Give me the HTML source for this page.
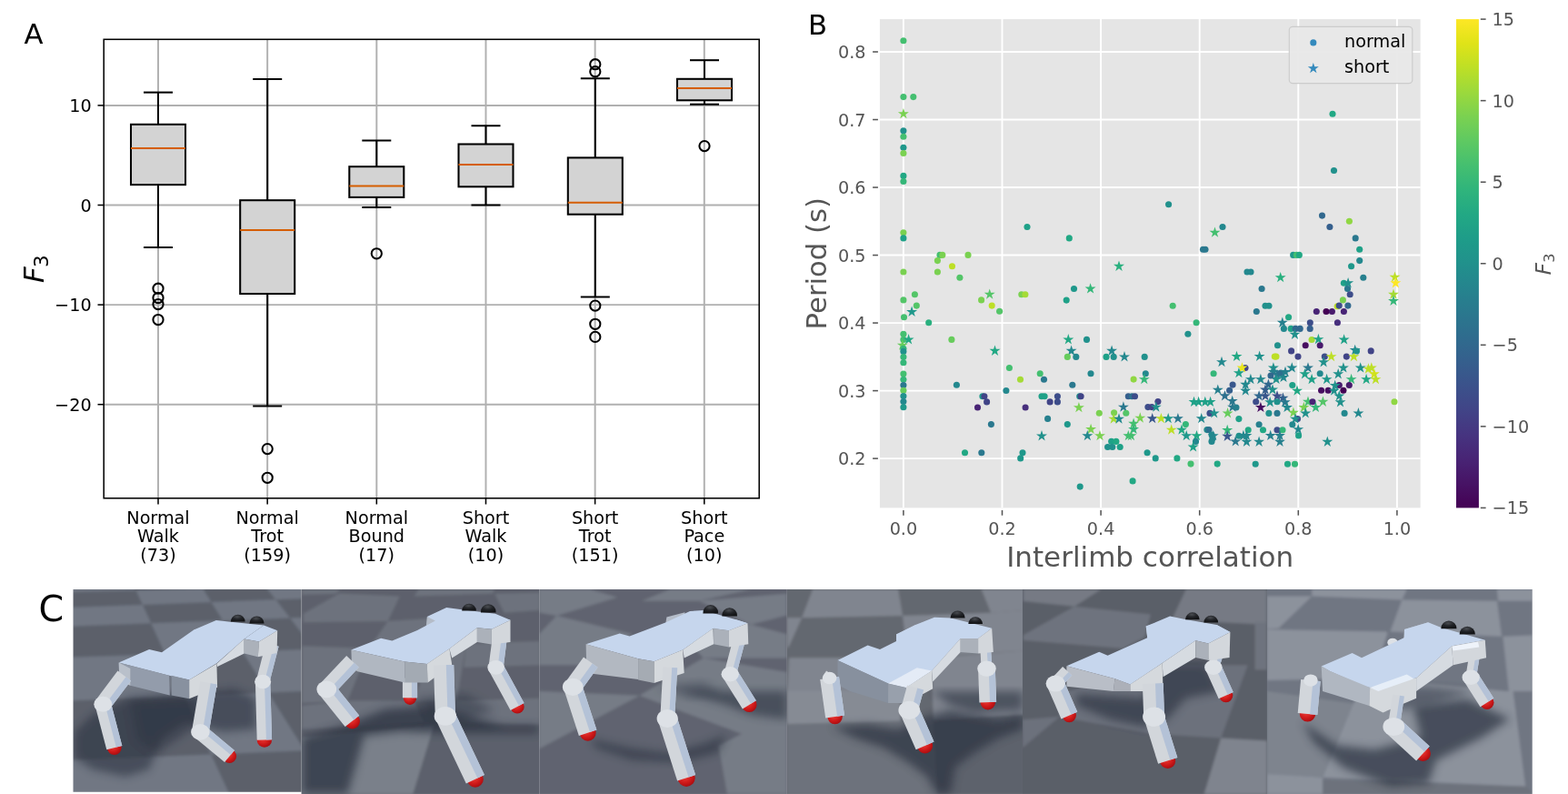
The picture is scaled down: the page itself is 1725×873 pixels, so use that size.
<!DOCTYPE html>
<html><head><meta charset="utf-8"><title>Figure</title>
<style>
html,body{margin:0;padding:0;background:#fff;}
body{width:1725px;height:873px;overflow:hidden;position:relative;}
svg{position:absolute;left:0;top:0;}
text{font-family:'DejaVu Sans', 'Liberation Sans', sans-serif;}
</style></head><body>
<svg width="1725" height="873" viewBox="0 0 1725 873">

<text x="26.5" y="48.3" font-size="30.7" fill="#000">A</text>
<line x1="114.2" y1="115.90" x2="835.2" y2="115.90" stroke="#b0b0b0" stroke-width="1.95"/>
<line x1="114.2" y1="225.50" x2="835.2" y2="225.50" stroke="#b0b0b0" stroke-width="1.95"/>
<line x1="114.2" y1="335.10" x2="835.2" y2="335.10" stroke="#b0b0b0" stroke-width="1.95"/>
<line x1="114.2" y1="444.70" x2="835.2" y2="444.70" stroke="#b0b0b0" stroke-width="1.95"/>
<line x1="174.00" y1="43.3" x2="174.00" y2="547.8" stroke="#b0b0b0" stroke-width="1.95"/>
<line x1="294.16" y1="43.3" x2="294.16" y2="547.8" stroke="#b0b0b0" stroke-width="1.95"/>
<line x1="414.32" y1="43.3" x2="414.32" y2="547.8" stroke="#b0b0b0" stroke-width="1.95"/>
<line x1="534.48" y1="43.3" x2="534.48" y2="547.8" stroke="#b0b0b0" stroke-width="1.95"/>
<line x1="654.64" y1="43.3" x2="654.64" y2="547.8" stroke="#b0b0b0" stroke-width="1.95"/>
<line x1="774.80" y1="43.3" x2="774.80" y2="547.8" stroke="#b0b0b0" stroke-width="1.95"/>
<line x1="174.0" y1="136.8" x2="174.0" y2="101.6" stroke="#000" stroke-width="2.05"/>
<line x1="174.0" y1="203.1" x2="174.0" y2="272.0" stroke="#000" stroke-width="2.05"/>
<line x1="158.0" y1="101.6" x2="190.0" y2="101.6" stroke="#000" stroke-width="2.05"/>
<line x1="158.0" y1="272.0" x2="190.0" y2="272.0" stroke="#000" stroke-width="2.05"/>
<rect x="144.0" y="136.8" width="60" height="66.30" fill="#d3d3d3" stroke="#000" stroke-width="2.05"/>
<line x1="144.0" y1="162.9" x2="204.0" y2="162.9" stroke="#d55e00" stroke-width="2.05"/>
<circle cx="174.0" cy="317.2" r="5.6" fill="none" stroke="#000" stroke-width="2.05"/>
<circle cx="174.0" cy="327.5" r="5.6" fill="none" stroke="#000" stroke-width="2.05"/>
<circle cx="174.0" cy="334.5" r="5.6" fill="none" stroke="#000" stroke-width="2.05"/>
<circle cx="174.0" cy="351.5" r="5.6" fill="none" stroke="#000" stroke-width="2.05"/>
<line x1="294.2" y1="220.2" x2="294.2" y2="87.0" stroke="#000" stroke-width="2.05"/>
<line x1="294.2" y1="323.0" x2="294.2" y2="446.5" stroke="#000" stroke-width="2.05"/>
<line x1="278.2" y1="87.0" x2="310.2" y2="87.0" stroke="#000" stroke-width="2.05"/>
<line x1="278.2" y1="446.5" x2="310.2" y2="446.5" stroke="#000" stroke-width="2.05"/>
<rect x="264.2" y="220.2" width="60" height="102.80" fill="#d3d3d3" stroke="#000" stroke-width="2.05"/>
<line x1="264.2" y1="252.9" x2="324.2" y2="252.9" stroke="#d55e00" stroke-width="2.05"/>
<circle cx="294.2" cy="493.6" r="5.6" fill="none" stroke="#000" stroke-width="2.05"/>
<circle cx="294.2" cy="525.3" r="5.6" fill="none" stroke="#000" stroke-width="2.05"/>
<line x1="414.3" y1="183.2" x2="414.3" y2="154.4" stroke="#000" stroke-width="2.05"/>
<line x1="414.3" y1="216.9" x2="414.3" y2="227.9" stroke="#000" stroke-width="2.05"/>
<line x1="398.3" y1="154.4" x2="430.3" y2="154.4" stroke="#000" stroke-width="2.05"/>
<line x1="398.3" y1="227.9" x2="430.3" y2="227.9" stroke="#000" stroke-width="2.05"/>
<rect x="384.3" y="183.2" width="60" height="33.70" fill="#d3d3d3" stroke="#000" stroke-width="2.05"/>
<line x1="384.3" y1="204.4" x2="444.3" y2="204.4" stroke="#d55e00" stroke-width="2.05"/>
<circle cx="414.3" cy="278.8" r="5.6" fill="none" stroke="#000" stroke-width="2.05"/>
<line x1="534.5" y1="158.5" x2="534.5" y2="138.3" stroke="#000" stroke-width="2.05"/>
<line x1="534.5" y1="205.3" x2="534.5" y2="225.5" stroke="#000" stroke-width="2.05"/>
<line x1="518.5" y1="138.3" x2="550.5" y2="138.3" stroke="#000" stroke-width="2.05"/>
<line x1="518.5" y1="225.5" x2="550.5" y2="225.5" stroke="#000" stroke-width="2.05"/>
<rect x="504.5" y="158.5" width="60" height="46.80" fill="#d3d3d3" stroke="#000" stroke-width="2.05"/>
<line x1="504.5" y1="180.9" x2="564.5" y2="180.9" stroke="#d55e00" stroke-width="2.05"/>
<line x1="654.8" y1="173.4" x2="654.8" y2="86.2" stroke="#000" stroke-width="2.05"/>
<line x1="654.8" y1="235.7" x2="654.8" y2="326.5" stroke="#000" stroke-width="2.05"/>
<line x1="638.8" y1="86.2" x2="670.8" y2="86.2" stroke="#000" stroke-width="2.05"/>
<line x1="638.8" y1="326.5" x2="670.8" y2="326.5" stroke="#000" stroke-width="2.05"/>
<rect x="624.8" y="173.4" width="60" height="62.30" fill="#d3d3d3" stroke="#000" stroke-width="2.05"/>
<line x1="624.8" y1="222.8" x2="684.8" y2="222.8" stroke="#d55e00" stroke-width="2.05"/>
<circle cx="654.8" cy="70.7" r="5.6" fill="none" stroke="#000" stroke-width="2.05"/>
<circle cx="654.8" cy="78.7" r="5.6" fill="none" stroke="#000" stroke-width="2.05"/>
<circle cx="654.8" cy="336.1" r="5.6" fill="none" stroke="#000" stroke-width="2.05"/>
<circle cx="654.8" cy="356.3" r="5.6" fill="none" stroke="#000" stroke-width="2.05"/>
<circle cx="654.8" cy="370.4" r="5.6" fill="none" stroke="#000" stroke-width="2.05"/>
<line x1="775.0" y1="86.8" x2="775.0" y2="66.2" stroke="#000" stroke-width="2.05"/>
<line x1="775.0" y1="110.3" x2="775.0" y2="114.7" stroke="#000" stroke-width="2.05"/>
<line x1="759.0" y1="66.2" x2="791.0" y2="66.2" stroke="#000" stroke-width="2.05"/>
<line x1="759.0" y1="114.7" x2="791.0" y2="114.7" stroke="#000" stroke-width="2.05"/>
<rect x="745.0" y="86.8" width="60" height="23.50" fill="#d3d3d3" stroke="#000" stroke-width="2.05"/>
<line x1="745.0" y1="96.9" x2="805.0" y2="96.9" stroke="#d55e00" stroke-width="2.05"/>
<circle cx="775.0" cy="160.6" r="5.6" fill="none" stroke="#000" stroke-width="2.05"/>
<rect x="114.2" y="43.3" width="721.00" height="504.50" fill="none" stroke="#000" stroke-width="1.54"/>
<line x1="107.50" y1="115.90" x2="114.2" y2="115.90" stroke="#000" stroke-width="1.54"/>
<text x="100.60" y="122.90" font-size="19.2" text-anchor="end" fill="#000">10</text>
<line x1="107.50" y1="225.50" x2="114.2" y2="225.50" stroke="#000" stroke-width="1.54"/>
<text x="100.60" y="232.50" font-size="19.2" text-anchor="end" fill="#000">0</text>
<line x1="107.50" y1="335.10" x2="114.2" y2="335.10" stroke="#000" stroke-width="1.54"/>
<text x="100.60" y="342.10" font-size="19.2" text-anchor="end" fill="#000">−10</text>
<line x1="107.50" y1="444.70" x2="114.2" y2="444.70" stroke="#000" stroke-width="1.54"/>
<text x="100.60" y="451.70" font-size="19.2" text-anchor="end" fill="#000">−20</text>
<line x1="174.00" y1="547.8" x2="174.00" y2="554.50" stroke="#000" stroke-width="1.54"/>
<text x="174.00" y="575.50" font-size="19.2" text-anchor="middle" fill="#000">Normal</text>
<text x="174.00" y="596.10" font-size="19.2" text-anchor="middle" fill="#000">Walk</text>
<text x="174.00" y="616.70" font-size="19.2" text-anchor="middle" fill="#000">(73)</text>
<line x1="294.16" y1="547.8" x2="294.16" y2="554.50" stroke="#000" stroke-width="1.54"/>
<text x="294.16" y="575.50" font-size="19.2" text-anchor="middle" fill="#000">Normal</text>
<text x="294.16" y="596.10" font-size="19.2" text-anchor="middle" fill="#000">Trot</text>
<text x="294.16" y="616.70" font-size="19.2" text-anchor="middle" fill="#000">(159)</text>
<line x1="414.32" y1="547.8" x2="414.32" y2="554.50" stroke="#000" stroke-width="1.54"/>
<text x="414.32" y="575.50" font-size="19.2" text-anchor="middle" fill="#000">Normal</text>
<text x="414.32" y="596.10" font-size="19.2" text-anchor="middle" fill="#000">Bound</text>
<text x="414.32" y="616.70" font-size="19.2" text-anchor="middle" fill="#000">(17)</text>
<line x1="534.48" y1="547.8" x2="534.48" y2="554.50" stroke="#000" stroke-width="1.54"/>
<text x="534.48" y="575.50" font-size="19.2" text-anchor="middle" fill="#000">Short</text>
<text x="534.48" y="596.10" font-size="19.2" text-anchor="middle" fill="#000">Walk</text>
<text x="534.48" y="616.70" font-size="19.2" text-anchor="middle" fill="#000">(10)</text>
<line x1="654.64" y1="547.8" x2="654.64" y2="554.50" stroke="#000" stroke-width="1.54"/>
<text x="654.64" y="575.50" font-size="19.2" text-anchor="middle" fill="#000">Short</text>
<text x="654.64" y="596.10" font-size="19.2" text-anchor="middle" fill="#000">Trot</text>
<text x="654.64" y="616.70" font-size="19.2" text-anchor="middle" fill="#000">(151)</text>
<line x1="774.80" y1="547.8" x2="774.80" y2="554.50" stroke="#000" stroke-width="1.54"/>
<text x="774.80" y="575.50" font-size="19.2" text-anchor="middle" fill="#000">Short</text>
<text x="774.80" y="596.10" font-size="19.2" text-anchor="middle" fill="#000">Pace</text>
<text x="774.80" y="616.70" font-size="19.2" text-anchor="middle" fill="#000">(10)</text>
<g transform="translate(47.9,311) rotate(-90)"><text x="0" y="0" font-size="30.7" font-style="italic" fill="#000">F</text><text x="17" y="5.2" font-size="21.5" fill="#000">3</text></g>
<text x="888.9" y="37.7" font-size="30.7" fill="#000">B</text>
<rect x="967.9" y="21.1" width="594.70" height="537.30" fill="#e5e5e5"/>
<line x1="993.90" y1="21.1" x2="993.90" y2="558.4" stroke="#fff" stroke-width="1.9"/>
<line x1="1102.50" y1="21.1" x2="1102.50" y2="558.4" stroke="#fff" stroke-width="1.9"/>
<line x1="1211.10" y1="21.1" x2="1211.10" y2="558.4" stroke="#fff" stroke-width="1.9"/>
<line x1="1319.70" y1="21.1" x2="1319.70" y2="558.4" stroke="#fff" stroke-width="1.9"/>
<line x1="1428.30" y1="21.1" x2="1428.30" y2="558.4" stroke="#fff" stroke-width="1.9"/>
<line x1="1536.90" y1="21.1" x2="1536.90" y2="558.4" stroke="#fff" stroke-width="1.9"/>
<line x1="967.9" y1="504.12" x2="1562.6" y2="504.12" stroke="#fff" stroke-width="1.9"/>
<line x1="967.9" y1="429.60" x2="1562.6" y2="429.60" stroke="#fff" stroke-width="1.9"/>
<line x1="967.9" y1="355.08" x2="1562.6" y2="355.08" stroke="#fff" stroke-width="1.9"/>
<line x1="967.9" y1="280.56" x2="1562.6" y2="280.56" stroke="#fff" stroke-width="1.9"/>
<line x1="967.9" y1="206.04" x2="1562.6" y2="206.04" stroke="#fff" stroke-width="1.9"/>
<line x1="967.9" y1="131.52" x2="1562.6" y2="131.52" stroke="#fff" stroke-width="1.9"/>
<line x1="967.9" y1="57.00" x2="1562.6" y2="57.00" stroke="#fff" stroke-width="1.9"/>
<circle cx="993.9" cy="44.7" r="3.55" fill="#44bf70"/>
<circle cx="993.9" cy="106.6" r="3.55" fill="#44bf70"/>
<circle cx="1004.8" cy="106.6" r="3.55" fill="#44bf70"/>
<path d="M993.90,118.90 L992.49,123.25 L987.91,123.25 L991.61,125.94 L990.20,130.30 L993.90,127.61 L997.60,130.30 L996.19,125.94 L999.89,123.25 L995.31,123.25Z" fill="#7ad151"/>
<circle cx="993.9" cy="143.7" r="3.55" fill="#21918c"/>
<circle cx="993.9" cy="150.3" r="3.55" fill="#44bf70"/>
<circle cx="993.9" cy="162.3" r="3.55" fill="#1f988b"/>
<circle cx="993.9" cy="168.5" r="3.55" fill="#7ad151"/>
<circle cx="993.9" cy="193.4" r="3.55" fill="#22a884"/>
<circle cx="993.9" cy="199.5" r="3.55" fill="#35b779"/>
<circle cx="993.9" cy="255.7" r="3.55" fill="#7ad151"/>
<circle cx="993.9" cy="261.9" r="3.55" fill="#1fa188"/>
<circle cx="1034" cy="280.4" r="3.55" fill="#44bf70"/>
<circle cx="1036.8" cy="280.4" r="3.55" fill="#7ad151"/>
<circle cx="1065" cy="280.4" r="3.55" fill="#7ad151"/>
<circle cx="1031.4" cy="286.6" r="3.55" fill="#7ad151"/>
<circle cx="1047.5" cy="292.8" r="3.55" fill="#bddf26"/>
<circle cx="993.9" cy="299" r="3.55" fill="#7ad151"/>
<circle cx="1031.4" cy="299" r="3.55" fill="#7ad151"/>
<circle cx="1055.9" cy="305.2" r="3.55" fill="#54c568"/>
<circle cx="1130" cy="249.5" r="3.55" fill="#1fa188"/>
<circle cx="1006.4" cy="323.7" r="3.55" fill="#54c568"/>
<circle cx="993.9" cy="329.9" r="3.55" fill="#54c568"/>
<circle cx="1008.3" cy="336.1" r="3.55" fill="#54c568"/>
<path d="M1003.10,336.60 L1001.69,340.95 L997.11,340.95 L1000.81,343.64 L999.40,348.00 L1003.10,345.31 L1006.80,348.00 L1005.39,343.64 L1009.09,340.95 L1004.51,340.95Z" fill="#1f988b"/>
<circle cx="994.5" cy="348.7" r="3.55" fill="#44bf70"/>
<circle cx="1021.7" cy="354.8" r="3.55" fill="#2ab07f"/>
<path d="M1088.70,317.40 L1087.29,321.75 L1082.71,321.75 L1086.41,324.44 L1085.00,328.80 L1088.70,326.11 L1092.40,328.80 L1090.99,324.44 L1094.69,321.75 L1090.11,321.75Z" fill="#54c568"/>
<circle cx="1079.6" cy="329.9" r="3.55" fill="#7ad151"/>
<circle cx="1091.2" cy="336.1" r="3.55" fill="#bddf26"/>
<circle cx="1099.6" cy="342.3" r="3.55" fill="#54c568"/>
<circle cx="1123.8" cy="323.7" r="3.55" fill="#7ad151"/>
<circle cx="1127.9" cy="323.7" r="3.55" fill="#a5db36"/>
<circle cx="993.9" cy="367.2" r="3.55" fill="#44bf70"/>
<circle cx="993.9" cy="373.4" r="3.55" fill="#44bf70"/>
<path d="M999.60,367.10 L998.19,371.45 L993.61,371.45 L997.31,374.14 L995.90,378.50 L999.60,375.81 L1003.30,378.50 L1001.89,374.14 L1005.59,371.45 L1001.01,371.45Z" fill="#22a884"/>
<path d="M992.80,373.30 L991.39,377.65 L986.81,377.65 L990.51,380.34 L989.10,384.70 L992.80,382.01 L996.50,384.70 L995.09,380.34 L998.79,377.65 L994.21,377.65Z" fill="#67cc5c"/>
<circle cx="993.9" cy="383.3" r="3.55" fill="#35b779"/>
<circle cx="993.9" cy="386.4" r="3.55" fill="#21918c"/>
<circle cx="993.9" cy="392.6" r="3.55" fill="#35b779"/>
<circle cx="993.9" cy="398.8" r="3.55" fill="#35b779"/>
<circle cx="993.9" cy="411.1" r="3.55" fill="#44bf70"/>
<circle cx="993.9" cy="417.3" r="3.55" fill="#35b779"/>
<circle cx="993.9" cy="423.5" r="3.55" fill="#2a788e"/>
<circle cx="993.9" cy="429.3" r="3.55" fill="#67cc5c"/>
<circle cx="993.9" cy="435.5" r="3.55" fill="#21918c"/>
<circle cx="993.9" cy="441.6" r="3.55" fill="#23888e"/>
<circle cx="993.9" cy="447.8" r="3.55" fill="#1f988b"/>
<circle cx="1046.9" cy="373.4" r="3.55" fill="#67cc5c"/>
<path d="M1094.50,379.50 L1093.09,383.85 L1088.51,383.85 L1092.21,386.54 L1090.80,390.90 L1094.50,388.21 L1098.20,390.90 L1096.79,386.54 L1100.49,383.85 L1095.91,383.85Z" fill="#22a884"/>
<circle cx="1110.4" cy="404.5" r="3.55" fill="#44bf70"/>
<circle cx="1122.5" cy="417.3" r="3.55" fill="#a5db36"/>
<circle cx="1144.2" cy="410.7" r="3.55" fill="#44bf70"/>
<circle cx="1148.5" cy="417.3" r="3.55" fill="#2a788e"/>
<circle cx="1052.4" cy="423.3" r="3.55" fill="#23888e"/>
<circle cx="1106.9" cy="429.5" r="3.55" fill="#23888e"/>
<circle cx="1080.9" cy="435.7" r="3.55" fill="#1f988b"/>
<circle cx="1082.9" cy="435.7" r="3.55" fill="#414487"/>
<circle cx="1085.6" cy="441.9" r="3.55" fill="#414487"/>
<circle cx="1075.5" cy="448" r="3.55" fill="#482475"/>
<circle cx="1128.1" cy="448" r="3.55" fill="#472f7d"/>
<circle cx="1146" cy="435.7" r="3.55" fill="#1fa188"/>
<circle cx="1149.1" cy="435.7" r="3.55" fill="#1fa188"/>
<circle cx="1155.1" cy="441.9" r="3.55" fill="#414487"/>
<circle cx="1163.4" cy="435.7" r="3.55" fill="#3d4d8a"/>
<circle cx="1163.4" cy="441.9" r="3.55" fill="#3d4d8a"/>
<circle cx="1152.6" cy="460.4" r="3.55" fill="#27808e"/>
<circle cx="1090.4" cy="466.6" r="3.55" fill="#2a788e"/>
<path d="M1146.00,473.10 L1144.59,477.45 L1140.01,477.45 L1143.71,480.14 L1142.30,484.50 L1146.00,481.81 L1149.70,484.50 L1148.29,480.14 L1151.99,477.45 L1147.41,477.45Z" fill="#21918c"/>
<circle cx="1061.5" cy="497.7" r="3.55" fill="#22a884"/>
<circle cx="1079.8" cy="497.7" r="3.55" fill="#2a788e"/>
<circle cx="1125" cy="497.7" r="3.55" fill="#1f988b"/>
<circle cx="1122.7" cy="503.9" r="3.55" fill="#1f988b"/>
<circle cx="1285.6" cy="224.7" r="3.55" fill="#21918c"/>
<circle cx="1345" cy="249.5" r="3.55" fill="#23888e"/>
<path d="M1336.50,249.40 L1335.09,253.75 L1330.51,253.75 L1334.21,256.44 L1332.80,260.80 L1336.50,258.11 L1340.20,260.80 L1338.79,256.44 L1342.49,253.75 L1337.91,253.75Z" fill="#44bf70"/>
<circle cx="1323.5" cy="274.2" r="3.55" fill="#2a788e"/>
<circle cx="1326" cy="274.2" r="3.55" fill="#2a788e"/>
<circle cx="1176.3" cy="261.9" r="3.55" fill="#22a884"/>
<path d="M1231.00,286.50 L1229.59,290.85 L1225.01,290.85 L1228.71,293.54 L1227.30,297.90 L1231.00,295.21 L1234.70,297.90 L1233.29,293.54 L1236.99,290.85 L1232.41,290.85Z" fill="#2ab07f"/>
<circle cx="1181.5" cy="317.5" r="3.55" fill="#1f988b"/>
<path d="M1199.60,311.20 L1198.19,315.55 L1193.61,315.55 L1197.31,318.24 L1195.90,322.60 L1199.60,319.91 L1203.30,322.60 L1201.89,318.24 L1205.59,315.55 L1201.01,315.55Z" fill="#35b779"/>
<circle cx="1173.2" cy="330.1" r="3.55" fill="#1fa188"/>
<circle cx="1290.2" cy="336.3" r="3.55" fill="#44bf70"/>
<circle cx="1316.1" cy="354.8" r="3.55" fill="#35b779"/>
<circle cx="1466" cy="125.2" r="3.55" fill="#22a884"/>
<circle cx="1467.5" cy="187.5" r="3.55" fill="#21918c"/>
<circle cx="1454.5" cy="237.1" r="3.55" fill="#31688e"/>
<circle cx="1462.9" cy="249.5" r="3.55" fill="#355f8d"/>
<circle cx="1484.4" cy="243.3" r="3.55" fill="#90d743"/>
<circle cx="1491.2" cy="261.9" r="3.55" fill="#2a788e"/>
<circle cx="1495.7" cy="274.2" r="3.55" fill="#1fa188"/>
<circle cx="1495.7" cy="286.6" r="3.55" fill="#23888e"/>
<circle cx="1486.6" cy="292.8" r="3.55" fill="#1f988b"/>
<circle cx="1499.8" cy="305.2" r="3.55" fill="#27808e"/>
<circle cx="1422.7" cy="280.4" r="3.55" fill="#1f988b"/>
<circle cx="1426.4" cy="280.4" r="3.55" fill="#44bf70"/>
<circle cx="1429.3" cy="280.4" r="3.55" fill="#22a884"/>
<circle cx="1372" cy="299" r="3.55" fill="#23888e"/>
<circle cx="1376" cy="299" r="3.55" fill="#23888e"/>
<path d="M1408.70,298.90 L1407.29,303.25 L1402.71,303.25 L1406.41,305.94 L1405.00,310.30 L1408.70,307.61 L1412.40,310.30 L1410.99,305.94 L1414.69,303.25 L1410.11,303.25Z" fill="#2ab07f"/>
<circle cx="1388.1" cy="317.5" r="3.55" fill="#2a788e"/>
<circle cx="1392" cy="336.3" r="3.55" fill="#21918c"/>
<circle cx="1396" cy="336.3" r="3.55" fill="#21918c"/>
<circle cx="1382.3" cy="342.5" r="3.55" fill="#2a788e"/>
<circle cx="1417.6" cy="348.7" r="3.55" fill="#22a884"/>
<path d="M1410.80,348.50 L1409.39,352.85 L1404.81,352.85 L1408.51,355.54 L1407.10,359.90 L1410.80,357.21 L1414.50,359.90 L1413.09,355.54 L1416.79,352.85 L1412.21,352.85Z" fill="#27808e"/>
<circle cx="1478.4" cy="311.3" r="3.55" fill="#1fa188"/>
<path d="M1483.10,305.00 L1481.69,309.35 L1477.11,309.35 L1480.81,312.04 L1479.40,316.40 L1483.10,313.71 L1486.80,316.40 L1485.39,312.04 L1489.09,309.35 L1484.51,309.35Z" fill="#21918c"/>
<circle cx="1482.5" cy="317.5" r="3.55" fill="#2a788e"/>
<circle cx="1485.2" cy="323.7" r="3.55" fill="#3d4d8a"/>
<circle cx="1477.4" cy="329.9" r="3.55" fill="#7ad151"/>
<circle cx="1471.2" cy="336.7" r="3.55" fill="#bddf26"/>
<circle cx="1473.2" cy="336.1" r="3.55" fill="#3d4d8a"/>
<circle cx="1482.9" cy="336.1" r="3.55" fill="#31688e"/>
<circle cx="1448.3" cy="342.5" r="3.55" fill="#482475"/>
<circle cx="1459" cy="342.5" r="3.55" fill="#440154"/>
<circle cx="1465.4" cy="342.5" r="3.55" fill="#481a6c"/>
<circle cx="1478.4" cy="342.5" r="3.55" fill="#482475"/>
<circle cx="1441.3" cy="354.8" r="3.55" fill="#3d4d8a"/>
<circle cx="1471.4" cy="354.8" r="3.55" fill="#472f7d"/>
<path d="M1534.50,298.40 L1533.09,302.75 L1528.51,302.75 L1532.21,305.44 L1530.80,309.80 L1534.50,307.11 L1538.20,309.80 L1536.79,305.44 L1540.49,302.75 L1535.91,302.75Z" fill="#bddf26"/>
<path d="M1535.30,305.00 L1533.89,309.35 L1529.31,309.35 L1533.01,312.04 L1531.60,316.40 L1535.30,313.71 L1539.00,316.40 L1537.59,312.04 L1541.29,309.35 L1536.71,309.35Z" fill="#fde725"/>
<path d="M1533.00,317.40 L1531.59,321.75 L1527.01,321.75 L1530.71,324.44 L1529.30,328.80 L1533.00,326.11 L1536.70,328.80 L1535.29,324.44 L1538.99,321.75 L1534.41,321.75Z" fill="#a5db36"/>
<path d="M1533.00,324.60 L1531.59,328.95 L1527.01,328.95 L1530.71,331.64 L1529.30,336.00 L1533.00,333.31 L1536.70,336.00 L1535.29,331.64 L1538.99,328.95 L1534.41,328.95Z" fill="#35b779"/>
<circle cx="1306.9" cy="367.2" r="3.55" fill="#21918c"/>
<path d="M1175.30,367.10 L1173.89,371.45 L1169.31,371.45 L1173.01,374.14 L1171.60,378.50 L1175.30,375.81 L1179.00,378.50 L1177.59,374.14 L1181.29,371.45 L1176.71,371.45Z" fill="#22a884"/>
<circle cx="1195.5" cy="373.4" r="3.55" fill="#21918c"/>
<path d="M1178.60,379.50 L1177.19,383.85 L1172.61,383.85 L1176.31,386.54 L1174.90,390.90 L1178.60,388.21 L1182.30,390.90 L1180.89,386.54 L1184.59,383.85 L1180.01,383.85Z" fill="#23888e"/>
<circle cx="1174.3" cy="392.4" r="3.55" fill="#67cc5c"/>
<circle cx="1183.8" cy="392.4" r="3.55" fill="#23888e"/>
<path d="M1223.10,379.50 L1221.69,383.85 L1217.11,383.85 L1220.81,386.54 L1219.40,390.90 L1223.10,388.21 L1226.80,390.90 L1225.39,386.54 L1229.09,383.85 L1224.51,383.85Z" fill="#23888e"/>
<circle cx="1217" cy="392.4" r="3.55" fill="#1fa188"/>
<circle cx="1225.2" cy="392.4" r="3.55" fill="#21918c"/>
<path d="M1237.00,386.10 L1235.59,390.45 L1231.01,390.45 L1234.71,393.14 L1233.30,397.50 L1237.00,394.81 L1240.70,397.50 L1239.29,393.14 L1242.99,390.45 L1238.41,390.45Z" fill="#23888e"/>
<circle cx="1259.2" cy="392.4" r="3.55" fill="#21918c"/>
<circle cx="1200" cy="410.7" r="3.55" fill="#23888e"/>
<circle cx="1260.3" cy="410.7" r="3.55" fill="#23888e"/>
<circle cx="1247.1" cy="417.1" r="3.55" fill="#90d743"/>
<path d="M1258.80,410.80 L1257.39,415.15 L1252.81,415.15 L1256.51,417.84 L1255.10,422.20 L1258.80,419.51 L1262.50,422.20 L1261.09,417.84 L1264.79,415.15 L1260.21,415.15Z" fill="#35b779"/>
<circle cx="1179.8" cy="423.3" r="3.55" fill="#2a788e"/>
<circle cx="1187.7" cy="435.7" r="3.55" fill="#21918c"/>
<circle cx="1189.1" cy="435.7" r="3.55" fill="#414487"/>
<circle cx="1241.3" cy="435.7" r="3.55" fill="#355f8d"/>
<circle cx="1245.4" cy="435.7" r="3.55" fill="#2d708e"/>
<circle cx="1248.5" cy="435.7" r="3.55" fill="#3d4d8a"/>
<path d="M1186.90,441.90 L1185.49,446.25 L1180.91,446.25 L1184.61,448.94 L1183.20,453.30 L1186.90,450.61 L1190.60,453.30 L1189.19,448.94 L1192.89,446.25 L1188.31,446.25Z" fill="#7ad151"/>
<circle cx="1209.3" cy="454.2" r="3.55" fill="#7ad151"/>
<path d="M1235.90,441.30 L1234.49,445.65 L1229.91,445.65 L1233.61,448.34 L1232.20,452.70 L1235.90,450.01 L1239.60,452.70 L1238.19,448.34 L1241.89,445.65 L1237.31,445.65Z" fill="#2a788e"/>
<circle cx="1225.6" cy="453.8" r="3.55" fill="#7ad151"/>
<circle cx="1238.8" cy="454.2" r="3.55" fill="#54c568"/>
<path d="M1225.20,454.30 L1223.79,458.65 L1219.21,458.65 L1222.91,461.34 L1221.50,465.70 L1225.20,463.01 L1228.90,465.70 L1227.49,461.34 L1231.19,458.65 L1226.61,458.65Z" fill="#a5db36"/>
<path d="M1231.00,454.30 L1229.59,458.65 L1225.01,458.65 L1228.71,461.34 L1227.30,465.70 L1231.00,463.01 L1234.70,465.70 L1233.29,461.34 L1236.99,458.65 L1232.41,458.65Z" fill="#23888e"/>
<circle cx="1174.3" cy="466.6" r="3.55" fill="#1f988b"/>
<path d="M1200.10,465.70 L1198.69,470.05 L1194.11,470.05 L1197.81,472.74 L1196.40,477.10 L1200.10,474.41 L1203.80,477.10 L1202.39,472.74 L1206.09,470.05 L1201.51,470.05Z" fill="#7ad151"/>
<path d="M1196.30,472.90 L1194.89,477.25 L1190.31,477.25 L1194.01,479.94 L1192.60,484.30 L1196.30,481.61 L1200.00,484.30 L1198.59,479.94 L1202.29,477.25 L1197.71,477.25Z" fill="#23888e"/>
<path d="M1210.00,472.90 L1208.59,477.25 L1204.01,477.25 L1207.71,479.94 L1206.30,484.30 L1210.00,481.61 L1213.70,484.30 L1212.29,479.94 L1215.99,477.25 L1211.41,477.25Z" fill="#7ad151"/>
<circle cx="1222.7" cy="485.4" r="3.55" fill="#1fa188"/>
<circle cx="1227.9" cy="485.4" r="3.55" fill="#22a884"/>
<circle cx="1218.6" cy="491.5" r="3.55" fill="#21918c"/>
<circle cx="1223.8" cy="491.5" r="3.55" fill="#21918c"/>
<circle cx="1232.2" cy="491.5" r="3.55" fill="#1fa188"/>
<path d="M1247.10,459.50 L1245.69,463.85 L1241.11,463.85 L1244.81,466.54 L1243.40,470.90 L1247.10,468.21 L1250.80,470.90 L1249.39,466.54 L1253.09,463.85 L1248.51,463.85Z" fill="#44bf70"/>
<path d="M1247.10,465.70 L1245.69,470.05 L1241.11,470.05 L1244.81,472.74 L1243.40,477.10 L1247.10,474.41 L1250.80,477.10 L1249.39,472.74 L1253.09,470.05 L1248.51,470.05Z" fill="#35b779"/>
<path d="M1241.30,472.90 L1239.89,477.25 L1235.31,477.25 L1239.01,479.94 L1237.60,484.30 L1241.30,481.61 L1245.00,484.30 L1243.59,479.94 L1247.29,477.25 L1242.71,477.25Z" fill="#44bf70"/>
<path d="M1244.40,472.90 L1242.99,477.25 L1238.41,477.25 L1242.11,479.94 L1240.70,484.30 L1244.40,481.61 L1248.10,484.30 L1246.69,479.94 L1250.39,477.25 L1245.81,477.25Z" fill="#44bf70"/>
<path d="M1254.30,453.30 L1252.89,457.65 L1248.31,457.65 L1252.01,460.34 L1250.60,464.70 L1254.30,462.01 L1258.00,464.70 L1256.59,460.34 L1260.29,457.65 L1255.71,457.65Z" fill="#7ad151"/>
<circle cx="1273.9" cy="441.6" r="3.55" fill="#414487"/>
<circle cx="1262.9" cy="447.6" r="3.55" fill="#3d4d8a"/>
<circle cx="1267.1" cy="447.6" r="3.55" fill="#414487"/>
<path d="M1271.80,441.30 L1270.39,445.65 L1265.81,445.65 L1269.51,448.34 L1268.10,452.70 L1271.80,450.01 L1275.50,452.70 L1274.09,448.34 L1277.79,445.65 L1273.21,445.65Z" fill="#21918c"/>
<path d="M1267.70,453.90 L1266.29,458.25 L1261.71,458.25 L1265.41,460.94 L1264.00,465.30 L1267.70,462.61 L1271.40,465.30 L1269.99,460.94 L1273.69,458.25 L1269.11,458.25Z" fill="#39568c"/>
<path d="M1277.40,453.90 L1275.99,458.25 L1271.41,458.25 L1275.11,460.94 L1273.70,465.30 L1277.40,462.61 L1281.10,465.30 L1279.69,460.94 L1283.39,458.25 L1278.81,458.25Z" fill="#bddf26"/>
<path d="M1285.20,453.90 L1283.79,458.25 L1279.21,458.25 L1282.91,460.94 L1281.50,465.30 L1285.20,462.61 L1288.90,465.30 L1287.49,460.94 L1291.19,458.25 L1286.61,458.25Z" fill="#1f988b"/>
<path d="M1295.90,453.90 L1294.49,458.25 L1289.91,458.25 L1293.61,460.94 L1292.20,465.30 L1295.90,462.61 L1299.60,465.30 L1298.19,460.94 L1301.89,458.25 L1297.31,458.25Z" fill="#2a788e"/>
<path d="M1288.70,466.30 L1287.29,470.65 L1282.71,470.65 L1286.41,473.34 L1285.00,477.70 L1288.70,475.01 L1292.40,477.70 L1290.99,473.34 L1294.69,470.65 L1290.11,470.65Z" fill="#bddf26"/>
<path d="M1300.00,466.30 L1298.59,470.65 L1294.01,470.65 L1297.71,473.34 L1296.30,477.70 L1300.00,475.01 L1303.70,477.70 L1302.29,473.34 L1305.99,470.65 L1301.41,470.65Z" fill="#22a884"/>
<circle cx="1304.4" cy="466.6" r="3.55" fill="#35b779"/>
<path d="M1305.20,472.90 L1303.79,477.25 L1299.21,477.25 L1302.91,479.94 L1301.50,484.30 L1305.20,481.61 L1308.90,484.30 L1307.49,479.94 L1311.19,477.25 L1306.61,477.25Z" fill="#1f988b"/>
<path d="M1316.50,472.90 L1315.09,477.25 L1310.51,477.25 L1314.21,479.94 L1312.80,484.30 L1316.50,481.61 L1320.20,484.30 L1318.79,479.94 L1322.49,477.25 L1317.91,477.25Z" fill="#22a884"/>
<circle cx="1315.5" cy="485.4" r="3.55" fill="#23888e"/>
<path d="M1312.60,485.20 L1311.19,489.55 L1306.61,489.55 L1310.31,492.24 L1308.90,496.60 L1312.60,493.91 L1316.30,496.60 L1314.89,492.24 L1318.59,489.55 L1314.01,489.55Z" fill="#1fa188"/>
<circle cx="1262.1" cy="497.7" r="3.55" fill="#1f988b"/>
<circle cx="1271.2" cy="503.9" r="3.55" fill="#1f988b"/>
<circle cx="1294.9" cy="503.9" r="3.55" fill="#22a884"/>
<circle cx="1310" cy="510.1" r="3.55" fill="#44bf70"/>
<circle cx="1339.2" cy="510.1" r="3.55" fill="#22a884"/>
<path d="M1313.50,435.70 L1312.09,440.05 L1307.51,440.05 L1311.21,442.74 L1309.80,447.10 L1313.50,444.41 L1317.20,447.10 L1315.79,442.74 L1319.49,440.05 L1314.91,440.05Z" fill="#1fa188"/>
<path d="M1318.60,435.70 L1317.19,440.05 L1312.61,440.05 L1316.31,442.74 L1314.90,447.10 L1318.60,444.41 L1322.30,447.10 L1320.89,442.74 L1324.59,440.05 L1320.01,440.05Z" fill="#1fa188"/>
<path d="M1325.80,435.70 L1324.39,440.05 L1319.81,440.05 L1323.51,442.74 L1322.10,447.10 L1325.80,444.41 L1329.50,447.10 L1328.09,442.74 L1331.79,440.05 L1327.21,440.05Z" fill="#1fa188"/>
<path d="M1331.60,435.70 L1330.19,440.05 L1325.61,440.05 L1329.31,442.74 L1327.90,447.10 L1331.60,444.41 L1335.30,447.10 L1333.89,442.74 L1337.59,440.05 L1333.01,440.05Z" fill="#1fa188"/>
<path d="M1321.70,453.90 L1320.29,458.25 L1315.71,458.25 L1319.41,460.94 L1318.00,465.30 L1321.70,462.61 L1325.40,465.30 L1323.99,460.94 L1327.69,458.25 L1323.11,458.25Z" fill="#23888e"/>
<circle cx="1331" cy="454.4" r="3.55" fill="#3d4d8a"/>
<path d="M1335.70,448.10 L1334.29,452.45 L1329.71,452.45 L1333.41,455.14 L1332.00,459.50 L1335.70,456.81 L1339.40,459.50 L1337.99,455.14 L1341.69,452.45 L1337.11,452.45Z" fill="#21918c"/>
<path d="M1339.80,422.40 L1338.39,426.75 L1333.81,426.75 L1337.51,429.44 L1336.10,433.80 L1339.80,431.11 L1343.50,433.80 L1342.09,429.44 L1345.79,426.75 L1341.21,426.75Z" fill="#27808e"/>
<path d="M1347.50,429.00 L1346.09,433.35 L1341.51,433.35 L1345.21,436.04 L1343.80,440.40 L1347.50,437.71 L1351.20,440.40 L1349.79,436.04 L1353.49,433.35 L1348.91,433.35Z" fill="#2d708e"/>
<path d="M1344.00,391.80 L1342.59,396.15 L1338.01,396.15 L1341.71,398.84 L1340.30,403.20 L1344.00,400.51 L1347.70,403.20 L1346.29,398.84 L1349.99,396.15 L1345.41,396.15Z" fill="#23888e"/>
<path d="M1360.50,385.70 L1359.09,390.05 L1354.51,390.05 L1358.21,392.74 L1356.80,397.10 L1360.50,394.41 L1364.20,397.10 L1362.79,392.74 L1366.49,390.05 L1361.91,390.05Z" fill="#22a884"/>
<circle cx="1335.1" cy="410.7" r="3.55" fill="#35b779"/>
<circle cx="1356.1" cy="423.1" r="3.55" fill="#39568c"/>
<circle cx="1352.6" cy="429.3" r="3.55" fill="#355f8d"/>
<path d="M1355.70,434.70 L1354.29,439.05 L1349.71,439.05 L1353.41,441.74 L1352.00,446.10 L1355.70,443.41 L1359.40,446.10 L1357.99,441.74 L1361.69,439.05 L1357.11,439.05Z" fill="#2a788e"/>
<path d="M1356.00,441.30 L1354.59,445.65 L1350.01,445.65 L1353.71,448.34 L1352.30,452.70 L1356.00,450.01 L1359.70,452.70 L1358.29,448.34 L1361.99,445.65 L1357.41,445.65Z" fill="#2a788e"/>
<circle cx="1360" cy="448" r="3.55" fill="#27808e"/>
<path d="M1350.60,448.10 L1349.19,452.45 L1344.61,452.45 L1348.31,455.14 L1346.90,459.50 L1350.60,456.81 L1354.30,459.50 L1352.89,455.14 L1356.59,452.45 L1352.01,452.45Z" fill="#67cc5c"/>
<circle cx="1362.9" cy="460.6" r="3.55" fill="#1fa188"/>
<circle cx="1327.9" cy="472.6" r="3.55" fill="#23888e"/>
<circle cx="1330" cy="472.6" r="3.55" fill="#2d708e"/>
<circle cx="1333" cy="478" r="3.55" fill="#23888e"/>
<circle cx="1334" cy="482" r="3.55" fill="#23888e"/>
<circle cx="1333" cy="485.4" r="3.55" fill="#23888e"/>
<path d="M1334.70,472.90 L1333.29,477.25 L1328.71,477.25 L1332.41,479.94 L1331.00,484.30 L1334.70,481.61 L1338.40,484.30 L1336.99,479.94 L1340.69,477.25 L1336.11,477.25Z" fill="#23888e"/>
<path d="M1350.20,466.70 L1348.79,471.05 L1344.21,471.05 L1347.91,473.74 L1346.50,478.10 L1350.20,475.41 L1353.90,478.10 L1352.49,473.74 L1356.19,471.05 L1351.61,471.05Z" fill="#35b779"/>
<path d="M1350.20,473.50 L1348.79,477.85 L1344.21,477.85 L1347.91,480.54 L1346.50,484.90 L1350.20,482.21 L1353.90,484.90 L1352.49,480.54 L1356.19,477.85 L1351.61,477.85Z" fill="#39568c"/>
<path d="M1359.20,479.10 L1357.79,483.45 L1353.21,483.45 L1356.91,486.14 L1355.50,490.50 L1359.20,487.81 L1362.90,490.50 L1361.49,486.14 L1365.19,483.45 L1360.61,483.45Z" fill="#2a788e"/>
<circle cx="1363" cy="479.2" r="3.55" fill="#21918c"/>
<circle cx="1188.2" cy="535.1" r="3.55" fill="#1f988b"/>
<circle cx="1246.1" cy="528.9" r="3.55" fill="#22a884"/>
<circle cx="1420.2" cy="361.4" r="3.55" fill="#1fa188"/>
<circle cx="1425.2" cy="361.4" r="3.55" fill="#31688e"/>
<circle cx="1430.2" cy="361.4" r="3.55" fill="#31688e"/>
<circle cx="1441.2" cy="361.4" r="3.55" fill="#355f8d"/>
<circle cx="1412.4" cy="361.4" r="3.55" fill="#23888e"/>
<path d="M1424.50,361.50 L1423.09,365.85 L1418.51,365.85 L1422.21,368.54 L1420.80,372.90 L1424.50,370.21 L1428.20,372.90 L1426.79,368.54 L1430.49,365.85 L1425.91,365.85Z" fill="#21918c"/>
<circle cx="1405.5" cy="379.7" r="3.55" fill="#21918c"/>
<circle cx="1443.1" cy="373.5" r="3.55" fill="#a5db36"/>
<path d="M1450.40,366.80 L1448.99,371.15 L1444.41,371.15 L1448.11,373.84 L1446.70,378.20 L1450.40,375.51 L1454.10,378.20 L1452.69,373.84 L1456.39,371.15 L1451.81,371.15Z" fill="#1fa188"/>
<circle cx="1436.2" cy="379.7" r="3.55" fill="#470d60"/>
<circle cx="1452.2" cy="379.7" r="3.55" fill="#481a6c"/>
<path d="M1478.60,367.20 L1477.19,371.55 L1472.61,371.55 L1476.31,374.24 L1474.90,378.60 L1478.60,375.91 L1482.30,378.60 L1480.89,374.24 L1484.59,371.55 L1480.01,371.55Z" fill="#1fa188"/>
<circle cx="1420.6" cy="385.9" r="3.55" fill="#414487"/>
<circle cx="1428" cy="392.1" r="3.55" fill="#414487"/>
<circle cx="1402.3" cy="392.1" r="3.55" fill="#bddf26"/>
<circle cx="1404" cy="392.1" r="3.55" fill="#bddf26"/>
<path d="M1385.60,385.60 L1384.19,389.95 L1379.61,389.95 L1383.31,392.64 L1381.90,397.00 L1385.60,394.31 L1389.30,397.00 L1387.89,392.64 L1391.59,389.95 L1387.01,389.95Z" fill="#21918c"/>
<circle cx="1457.3" cy="392.1" r="3.55" fill="#3d4d8a"/>
<path d="M1464.60,385.80 L1463.19,390.15 L1458.61,390.15 L1462.31,392.84 L1460.90,397.20 L1464.60,394.51 L1468.30,397.20 L1466.89,392.84 L1470.59,390.15 L1466.01,390.15Z" fill="#bddf26"/>
<circle cx="1481.3" cy="392.1" r="3.55" fill="#414487"/>
<path d="M1489.40,385.80 L1487.99,390.15 L1483.41,390.15 L1487.11,392.84 L1485.70,397.20 L1489.40,394.51 L1493.10,397.20 L1491.69,392.84 L1495.39,390.15 L1490.81,390.15Z" fill="#bddf26"/>
<path d="M1490.70,378.70 L1489.29,383.05 L1484.71,383.05 L1488.41,385.74 L1487.00,390.10 L1490.70,387.41 L1494.40,390.10 L1492.99,385.74 L1496.69,383.05 L1492.11,383.05Z" fill="#23888e"/>
<circle cx="1492.5" cy="386" r="3.55" fill="#21918c"/>
<circle cx="1508.2" cy="385.9" r="3.55" fill="#414487"/>
<path d="M1456.10,392.00 L1454.69,396.35 L1450.11,396.35 L1453.81,399.04 L1452.40,403.40 L1456.10,400.71 L1459.80,403.40 L1458.39,399.04 L1462.09,396.35 L1457.51,396.35Z" fill="#21918c"/>
<circle cx="1370" cy="404.5" r="3.55" fill="#414487"/>
<path d="M1366.50,398.20 L1365.09,402.55 L1360.51,402.55 L1364.21,405.24 L1362.80,409.60 L1366.50,406.91 L1370.20,409.60 L1368.79,405.24 L1372.49,402.55 L1367.91,402.55Z" fill="#eae51a"/>
<path d="M1362.90,403.90 L1361.49,408.25 L1356.91,408.25 L1360.61,410.94 L1359.20,415.30 L1362.90,412.61 L1366.60,415.30 L1365.19,410.94 L1368.89,408.25 L1364.31,408.25Z" fill="#1fa188"/>
<path d="M1400.90,398.20 L1399.49,402.55 L1394.91,402.55 L1398.61,405.24 L1397.20,409.60 L1400.90,406.91 L1404.60,409.60 L1403.19,405.24 L1406.89,402.55 L1402.31,402.55Z" fill="#21918c"/>
<path d="M1421.30,398.20 L1419.89,402.55 L1415.31,402.55 L1419.01,405.24 L1417.60,409.60 L1421.30,406.91 L1425.00,409.60 L1423.59,405.24 L1427.29,402.55 L1422.71,402.55Z" fill="#23888e"/>
<path d="M1439.00,398.20 L1437.59,402.55 L1433.01,402.55 L1436.71,405.24 L1435.30,409.60 L1439.00,406.91 L1442.70,409.60 L1441.29,405.24 L1444.99,402.55 L1440.41,402.55Z" fill="#2a788e"/>
<path d="M1477.90,398.20 L1476.49,402.55 L1471.91,402.55 L1475.61,405.24 L1474.20,409.60 L1477.90,406.91 L1481.60,409.60 L1480.19,405.24 L1483.89,402.55 L1479.31,402.55Z" fill="#21918c"/>
<path d="M1496.70,398.20 L1495.29,402.55 L1490.71,402.55 L1494.41,405.24 L1493.00,409.60 L1496.70,406.91 L1500.40,409.60 L1498.99,405.24 L1502.69,402.55 L1498.11,402.55Z" fill="#21918c"/>
<path d="M1505.40,399.30 L1503.99,403.65 L1499.41,403.65 L1503.11,406.34 L1501.70,410.70 L1505.40,408.01 L1509.10,410.70 L1507.69,406.34 L1511.39,403.65 L1506.81,403.65Z" fill="#bddf26"/>
<path d="M1508.80,398.20 L1507.39,402.55 L1502.81,402.55 L1506.51,405.24 L1505.10,409.60 L1508.80,406.91 L1512.50,409.60 L1511.09,405.24 L1514.79,402.55 L1510.21,402.55Z" fill="#bddf26"/>
<path d="M1511.80,405.00 L1510.39,409.35 L1505.81,409.35 L1509.51,412.04 L1508.10,416.40 L1511.80,413.71 L1515.50,416.40 L1514.09,412.04 L1517.79,409.35 L1513.21,409.35Z" fill="#d2e21b"/>
<path d="M1513.40,410.80 L1511.99,415.15 L1507.41,415.15 L1511.11,417.84 L1509.70,422.20 L1513.40,419.51 L1517.10,422.20 L1515.69,417.84 L1519.39,415.15 L1514.81,415.15Z" fill="#bddf26"/>
<path d="M1503.10,410.80 L1501.69,415.15 L1497.11,415.15 L1500.81,417.84 L1499.40,422.20 L1503.10,419.51 L1506.80,422.20 L1505.39,417.84 L1509.09,415.15 L1504.51,415.15Z" fill="#22a884"/>
<path d="M1486.60,410.80 L1485.19,415.15 L1480.61,415.15 L1484.31,417.84 L1482.90,422.20 L1486.60,419.51 L1490.30,422.20 L1488.89,417.84 L1492.59,415.15 L1488.01,415.15Z" fill="#35b779"/>
<path d="M1472.20,405.00 L1470.79,409.35 L1466.21,409.35 L1469.91,412.04 L1468.50,416.40 L1472.20,413.71 L1475.90,416.40 L1474.49,412.04 L1478.19,409.35 L1473.61,409.35Z" fill="#21918c"/>
<circle cx="1452.2" cy="410.7" r="3.55" fill="#23888e"/>
<path d="M1459.60,410.80 L1458.19,415.15 L1453.61,415.15 L1457.31,417.84 L1455.90,422.20 L1459.60,419.51 L1463.30,422.20 L1461.89,417.84 L1465.59,415.15 L1461.01,415.15Z" fill="#1f988b"/>
<path d="M1443.10,410.80 L1441.69,415.15 L1437.11,415.15 L1440.81,417.84 L1439.40,422.20 L1443.10,419.51 L1446.80,422.20 L1445.39,417.84 L1449.09,415.15 L1444.51,415.15Z" fill="#1fa188"/>
<path d="M1435.50,405.00 L1434.09,409.35 L1429.51,409.35 L1433.21,412.04 L1431.80,416.40 L1435.50,413.71 L1439.20,416.40 L1437.79,412.04 L1441.49,409.35 L1436.91,409.35Z" fill="#1fa188"/>
<path d="M1375.90,410.80 L1374.49,415.15 L1369.91,415.15 L1373.61,417.84 L1372.20,422.20 L1375.90,419.51 L1379.60,422.20 L1378.19,417.84 L1381.89,415.15 L1377.31,415.15Z" fill="#23888e"/>
<path d="M1386.90,410.80 L1385.49,415.15 L1380.91,415.15 L1384.61,417.84 L1383.20,422.20 L1386.90,419.51 L1390.60,422.20 L1389.19,417.84 L1392.89,415.15 L1388.31,415.15Z" fill="#23888e"/>
<path d="M1401.00,402.70 L1399.59,407.05 L1395.01,407.05 L1398.71,409.74 L1397.30,414.10 L1401.00,411.41 L1404.70,414.10 L1403.29,409.74 L1406.99,407.05 L1402.41,407.05Z" fill="#27808e"/>
<path d="M1405.00,405.70 L1403.59,410.05 L1399.01,410.05 L1402.71,412.74 L1401.30,417.10 L1405.00,414.41 L1408.70,417.10 L1407.29,412.74 L1410.99,410.05 L1406.41,410.05Z" fill="#2a788e"/>
<circle cx="1409" cy="410" r="3.55" fill="#2d708e"/>
<path d="M1412.00,408.70 L1410.59,413.05 L1406.01,413.05 L1409.71,415.74 L1408.30,420.10 L1412.00,417.41 L1415.70,420.10 L1414.29,415.74 L1417.99,413.05 L1413.41,413.05Z" fill="#23888e"/>
<path d="M1404.00,410.70 L1402.59,415.05 L1398.01,415.05 L1401.71,417.74 L1400.30,422.10 L1404.00,419.41 L1407.70,422.10 L1406.29,417.74 L1409.99,415.05 L1405.41,415.05Z" fill="#21918c"/>
<path d="M1414.00,402.70 L1412.59,407.05 L1408.01,407.05 L1411.71,409.74 L1410.30,414.10 L1414.00,411.41 L1417.70,414.10 L1416.29,409.74 L1419.99,407.05 L1415.41,407.05Z" fill="#27808e"/>
<circle cx="1398" cy="413" r="3.55" fill="#31688e"/>
<path d="M1370.20,416.50 L1368.79,420.85 L1364.21,420.85 L1367.91,423.54 L1366.50,427.90 L1370.20,425.21 L1373.90,427.90 L1372.49,423.54 L1376.19,420.85 L1371.61,420.85Z" fill="#23888e"/>
<path d="M1370.20,423.40 L1368.79,427.75 L1364.21,427.75 L1367.91,430.44 L1366.50,434.80 L1370.20,432.11 L1373.90,434.80 L1372.49,430.44 L1376.19,427.75 L1371.61,427.75Z" fill="#23888e"/>
<path d="M1395.40,416.50 L1393.99,420.85 L1389.41,420.85 L1393.11,423.54 L1391.70,427.90 L1395.40,425.21 L1399.10,427.90 L1397.69,423.54 L1401.39,420.85 L1396.81,420.85Z" fill="#31688e"/>
<path d="M1392.00,422.20 L1390.59,426.55 L1386.01,426.55 L1389.71,429.24 L1388.30,433.60 L1392.00,430.91 L1395.70,433.60 L1394.29,429.24 L1397.99,426.55 L1393.41,426.55Z" fill="#355f8d"/>
<path d="M1400.00,422.20 L1398.59,426.55 L1394.01,426.55 L1397.71,429.24 L1396.30,433.60 L1400.00,430.91 L1403.70,433.60 L1402.29,429.24 L1405.99,426.55 L1401.41,426.55Z" fill="#21918c"/>
<path d="M1385.10,429.10 L1383.69,433.45 L1379.11,433.45 L1382.81,436.14 L1381.40,440.50 L1385.10,437.81 L1388.80,440.50 L1387.39,436.14 L1391.09,433.45 L1386.51,433.45Z" fill="#31688e"/>
<path d="M1392.00,429.10 L1390.59,433.45 L1386.01,433.45 L1389.71,436.14 L1388.30,440.50 L1392.00,437.81 L1395.70,440.50 L1394.29,436.14 L1397.99,433.45 L1393.41,433.45Z" fill="#39568c"/>
<path d="M1405.00,429.10 L1403.59,433.45 L1399.01,433.45 L1402.71,436.14 L1401.30,440.50 L1405.00,437.81 L1408.70,440.50 L1407.29,436.14 L1410.99,433.45 L1406.41,433.45Z" fill="#3d4d8a"/>
<path d="M1411.50,431.40 L1410.09,435.75 L1405.51,435.75 L1409.21,438.44 L1407.80,442.80 L1411.50,440.11 L1415.20,442.80 L1413.79,438.44 L1417.49,435.75 L1412.91,435.75Z" fill="#355f8d"/>
<path d="M1413.70,436.00 L1412.29,440.35 L1407.71,440.35 L1411.41,443.04 L1410.00,447.40 L1413.70,444.71 L1417.40,447.40 L1415.99,443.04 L1419.69,440.35 L1415.11,440.35Z" fill="#2a788e"/>
<circle cx="1381.7" cy="441.8" r="3.55" fill="#3d4d8a"/>
<circle cx="1405" cy="441.8" r="3.55" fill="#21918c"/>
<path d="M1397.20,436.00 L1395.79,440.35 L1391.21,440.35 L1394.91,443.04 L1393.50,447.40 L1397.20,444.71 L1400.90,447.40 L1399.49,443.04 L1403.19,440.35 L1398.61,440.35Z" fill="#21918c"/>
<path d="M1386.90,441.70 L1385.49,446.05 L1380.91,446.05 L1384.61,448.74 L1383.20,453.10 L1386.90,450.41 L1390.60,453.10 L1389.19,448.74 L1392.89,446.05 L1388.31,446.05Z" fill="#470d60"/>
<circle cx="1395.9" cy="454.4" r="3.55" fill="#21918c"/>
<circle cx="1405" cy="454.4" r="3.55" fill="#2a788e"/>
<path d="M1416.00,441.70 L1414.59,446.05 L1410.01,446.05 L1413.71,448.74 L1412.30,453.10 L1416.00,450.41 L1419.70,453.10 L1418.29,448.74 L1421.99,446.05 L1417.41,446.05Z" fill="#23888e"/>
<path d="M1422.90,447.40 L1421.49,451.75 L1416.91,451.75 L1420.61,454.44 L1419.20,458.80 L1422.90,456.11 L1426.60,458.80 L1425.19,454.44 L1428.89,451.75 L1424.31,451.75Z" fill="#7ad151"/>
<path d="M1434.40,441.70 L1432.99,446.05 L1428.41,446.05 L1432.11,448.74 L1430.70,453.10 L1434.40,450.41 L1438.10,453.10 L1436.69,448.74 L1440.39,446.05 L1435.81,446.05Z" fill="#7ad151"/>
<path d="M1439.00,435.50 L1437.59,439.85 L1433.01,439.85 L1436.71,442.54 L1435.30,446.90 L1439.00,444.21 L1442.70,446.90 L1441.29,442.54 L1444.99,439.85 L1440.41,439.85Z" fill="#44bf70"/>
<circle cx="1444" cy="441.8" r="3.55" fill="#482475"/>
<path d="M1447.40,441.70 L1445.99,446.05 L1441.41,446.05 L1445.11,448.74 L1443.70,453.10 L1447.40,450.41 L1451.10,453.10 L1449.69,448.74 L1453.39,446.05 L1448.81,446.05Z" fill="#35b779"/>
<path d="M1455.40,435.50 L1453.99,439.85 L1449.41,439.85 L1453.11,442.54 L1451.70,446.90 L1455.40,444.21 L1459.10,446.90 L1457.69,442.54 L1461.39,439.85 L1456.81,439.85Z" fill="#54c568"/>
<path d="M1436.20,448.10 L1434.79,452.45 L1430.21,452.45 L1433.91,455.14 L1432.50,459.50 L1436.20,456.81 L1439.90,459.50 L1438.49,455.14 L1442.19,452.45 L1437.61,452.45Z" fill="#21918c"/>
<path d="M1427.00,423.40 L1425.59,427.75 L1421.01,427.75 L1424.71,430.44 L1423.30,434.80 L1427.00,432.11 L1430.70,434.80 L1429.29,430.44 L1432.99,427.75 L1428.41,427.75Z" fill="#22a884"/>
<circle cx="1421.8" cy="423.5" r="3.55" fill="#1fa188"/>
<circle cx="1453.6" cy="429.2" r="3.55" fill="#470d60"/>
<circle cx="1461.2" cy="429.2" r="3.55" fill="#470d60"/>
<circle cx="1477.9" cy="429.2" r="3.55" fill="#440154"/>
<circle cx="1484.3" cy="423.5" r="3.55" fill="#481a6c"/>
<circle cx="1473.3" cy="423.5" r="3.55" fill="#481a6c"/>
<path d="M1468.70,417.70 L1467.29,422.05 L1462.71,422.05 L1466.41,424.74 L1465.00,429.10 L1468.70,426.41 L1472.40,429.10 L1470.99,424.74 L1474.69,422.05 L1470.11,422.05Z" fill="#21918c"/>
<path d="M1467.60,423.40 L1466.19,427.75 L1461.61,427.75 L1465.31,430.44 L1463.90,434.80 L1467.60,432.11 L1471.30,434.80 L1469.89,430.44 L1473.59,427.75 L1469.01,427.75Z" fill="#21918c"/>
<path d="M1473.30,429.10 L1471.89,433.45 L1467.31,433.45 L1471.01,436.14 L1469.60,440.50 L1473.30,437.81 L1477.00,440.50 L1475.59,436.14 L1479.29,433.45 L1474.71,433.45Z" fill="#21918c"/>
<path d="M1474.50,436.00 L1473.09,440.35 L1468.51,440.35 L1472.21,443.04 L1470.80,447.40 L1474.50,444.71 L1478.20,447.40 L1476.79,443.04 L1480.49,440.35 L1475.91,440.35Z" fill="#21918c"/>
<circle cx="1479.1" cy="454.4" r="3.55" fill="#23888e"/>
<path d="M1494.40,448.10 L1492.99,452.45 L1488.41,452.45 L1492.11,455.14 L1490.70,459.50 L1494.40,456.81 L1498.10,459.50 L1496.69,455.14 L1500.39,452.45 L1495.81,452.45Z" fill="#23888e"/>
<path d="M1460.30,479.50 L1458.89,483.85 L1454.31,483.85 L1458.01,486.54 L1456.60,490.90 L1460.30,488.21 L1464.00,490.90 L1462.59,486.54 L1466.29,483.85 L1461.71,483.85Z" fill="#21918c"/>
<circle cx="1534" cy="441.8" r="3.55" fill="#90d743"/>
<circle cx="1427.5" cy="460.6" r="3.55" fill="#3d4d8a"/>
<path d="M1425.00,454.30 L1423.59,458.65 L1419.01,458.65 L1422.71,461.34 L1421.30,465.70 L1425.00,463.01 L1428.70,465.70 L1427.29,461.34 L1430.99,458.65 L1426.41,458.65Z" fill="#21918c"/>
<circle cx="1421.8" cy="466.8" r="3.55" fill="#23888e"/>
<circle cx="1385.1" cy="466.8" r="3.55" fill="#27808e"/>
<path d="M1428.20,465.80 L1426.79,470.15 L1422.21,470.15 L1425.91,472.84 L1424.50,477.20 L1428.20,474.51 L1431.90,477.20 L1430.49,472.84 L1434.19,470.15 L1429.61,470.15Z" fill="#23888e"/>
<circle cx="1428.6" cy="478.9" r="3.55" fill="#1fa188"/>
<circle cx="1405" cy="472.8" r="3.55" fill="#3d4d8a"/>
<circle cx="1411" cy="472.8" r="3.55" fill="#35b779"/>
<circle cx="1389.5" cy="472.8" r="3.55" fill="#22a884"/>
<circle cx="1373.2" cy="472.8" r="3.55" fill="#22a884"/>
<path d="M1367.90,472.70 L1366.49,477.05 L1361.91,477.05 L1365.61,479.74 L1364.20,484.10 L1367.90,481.41 L1371.60,484.10 L1370.19,479.74 L1373.89,477.05 L1369.31,477.05Z" fill="#23888e"/>
<path d="M1371.40,472.70 L1369.99,477.05 L1365.41,477.05 L1369.11,479.74 L1367.70,484.10 L1371.40,481.41 L1375.10,484.10 L1373.69,479.74 L1377.39,477.05 L1372.81,477.05Z" fill="#23888e"/>
<path d="M1371.40,479.50 L1369.99,483.85 L1365.41,483.85 L1369.11,486.54 L1367.70,490.90 L1371.40,488.21 L1375.10,490.90 L1373.69,486.54 L1377.39,483.85 L1372.81,483.85Z" fill="#23888e"/>
<path d="M1385.10,479.50 L1383.69,483.85 L1379.11,483.85 L1382.81,486.54 L1381.40,490.90 L1385.10,488.21 L1388.80,490.90 L1387.39,486.54 L1391.09,483.85 L1386.51,483.85Z" fill="#23888e"/>
<path d="M1397.70,472.70 L1396.29,477.05 L1391.71,477.05 L1395.41,479.74 L1394.00,484.10 L1397.70,481.41 L1401.40,484.10 L1399.99,479.74 L1403.69,477.05 L1399.11,477.05Z" fill="#27808e"/>
<path d="M1408.00,472.70 L1406.59,477.05 L1402.01,477.05 L1405.71,479.74 L1404.30,484.10 L1408.00,481.41 L1411.70,484.10 L1410.29,479.74 L1413.99,477.05 L1409.41,477.05Z" fill="#27808e"/>
<path d="M1408.00,479.50 L1406.59,483.85 L1402.01,483.85 L1405.71,486.54 L1404.30,490.90 L1408.00,488.21 L1411.70,490.90 L1410.29,486.54 L1413.99,483.85 L1409.41,483.85Z" fill="#27808e"/>
<circle cx="1381.2" cy="510.3" r="3.55" fill="#1f988b"/>
<circle cx="1416.5" cy="510.3" r="3.55" fill="#22a884"/>
<circle cx="1424.5" cy="510.3" r="3.55" fill="#35b779"/>
<line x1="993.90" y1="561.00" x2="993.90" y2="566.70" stroke="#555" stroke-width="1.54"/>
<text x="993.90" y="588.20" font-size="19.2" text-anchor="middle" fill="#555">0.0</text>
<line x1="1102.50" y1="561.00" x2="1102.50" y2="566.70" stroke="#555" stroke-width="1.54"/>
<text x="1102.50" y="588.20" font-size="19.2" text-anchor="middle" fill="#555">0.2</text>
<line x1="1211.10" y1="561.00" x2="1211.10" y2="566.70" stroke="#555" stroke-width="1.54"/>
<text x="1211.10" y="588.20" font-size="19.2" text-anchor="middle" fill="#555">0.4</text>
<line x1="1319.70" y1="561.00" x2="1319.70" y2="566.70" stroke="#555" stroke-width="1.54"/>
<text x="1319.70" y="588.20" font-size="19.2" text-anchor="middle" fill="#555">0.6</text>
<line x1="1428.30" y1="561.00" x2="1428.30" y2="566.70" stroke="#555" stroke-width="1.54"/>
<text x="1428.30" y="588.20" font-size="19.2" text-anchor="middle" fill="#555">0.8</text>
<line x1="1536.90" y1="561.00" x2="1536.90" y2="566.70" stroke="#555" stroke-width="1.54"/>
<text x="1536.90" y="588.20" font-size="19.2" text-anchor="middle" fill="#555">1.0</text>
<line x1="960.1" y1="504.12" x2="965.9" y2="504.12" stroke="#555" stroke-width="1.54"/>
<text x="952.5" y="511.12" font-size="19.2" text-anchor="end" fill="#555">0.2</text>
<line x1="960.1" y1="429.60" x2="965.9" y2="429.60" stroke="#555" stroke-width="1.54"/>
<text x="952.5" y="436.60" font-size="19.2" text-anchor="end" fill="#555">0.3</text>
<line x1="960.1" y1="355.08" x2="965.9" y2="355.08" stroke="#555" stroke-width="1.54"/>
<text x="952.5" y="362.08" font-size="19.2" text-anchor="end" fill="#555">0.4</text>
<line x1="960.1" y1="280.56" x2="965.9" y2="280.56" stroke="#555" stroke-width="1.54"/>
<text x="952.5" y="287.56" font-size="19.2" text-anchor="end" fill="#555">0.5</text>
<line x1="960.1" y1="206.04" x2="965.9" y2="206.04" stroke="#555" stroke-width="1.54"/>
<text x="952.5" y="213.04" font-size="19.2" text-anchor="end" fill="#555">0.6</text>
<line x1="960.1" y1="131.52" x2="965.9" y2="131.52" stroke="#555" stroke-width="1.54"/>
<text x="952.5" y="138.52" font-size="19.2" text-anchor="end" fill="#555">0.7</text>
<line x1="960.1" y1="57.00" x2="965.9" y2="57.00" stroke="#555" stroke-width="1.54"/>
<text x="952.5" y="64.00" font-size="19.2" text-anchor="end" fill="#555">0.8</text>
<text x="1265.2" y="622.6" font-size="31" text-anchor="middle" fill="#555">Interlimb correlation</text>
<text transform="translate(908.5,289.7) rotate(-90)" x="0" y="0" font-size="30.7" text-anchor="middle" fill="#555">Period (s)</text>
<rect x="1418.3" y="29.3" width="135.5" height="62.3" rx="3.8" fill="#e8e8e8" fill-opacity="0.95" stroke="#cccccc" stroke-width="1.2"/>
<circle cx="1444.8" cy="46.9" r="3.55" fill="#348abd"/>
<path d="M1444.80,68.90 L1443.39,73.25 L1438.81,73.25 L1442.51,75.94 L1441.10,80.30 L1444.80,77.61 L1448.50,80.30 L1447.09,75.94 L1450.79,73.25 L1446.21,73.25Z" fill="#348abd"/>
<text x="1479.0" y="52.3" font-size="19.2" fill="#000">normal</text>
<text x="1479.0" y="80.0" font-size="19.2" fill="#000">short</text>
<defs><linearGradient id="vir" x1="0" y1="1" x2="0" y2="0">
<stop offset="0.000" stop-color="#440154"/>
<stop offset="0.050" stop-color="#471365"/>
<stop offset="0.100" stop-color="#482475"/>
<stop offset="0.150" stop-color="#463480"/>
<stop offset="0.200" stop-color="#414487"/>
<stop offset="0.250" stop-color="#3b528b"/>
<stop offset="0.300" stop-color="#355f8d"/>
<stop offset="0.350" stop-color="#2f6c8e"/>
<stop offset="0.400" stop-color="#2a788e"/>
<stop offset="0.450" stop-color="#25848e"/>
<stop offset="0.500" stop-color="#21918c"/>
<stop offset="0.550" stop-color="#1e9c89"/>
<stop offset="0.600" stop-color="#22a884"/>
<stop offset="0.650" stop-color="#2fb47c"/>
<stop offset="0.700" stop-color="#44bf70"/>
<stop offset="0.750" stop-color="#5ec962"/>
<stop offset="0.800" stop-color="#7ad151"/>
<stop offset="0.850" stop-color="#9bd93c"/>
<stop offset="0.900" stop-color="#bddf26"/>
<stop offset="0.950" stop-color="#dfe318"/>
<stop offset="1.000" stop-color="#fde725"/>
</linearGradient></defs>
<rect x="1602.0" y="21.1" width="24.90" height="537.30" fill="url(#vir)"/>
<line x1="1628.8" y1="21.10" x2="1634.6" y2="21.10" stroke="#555" stroke-width="1.54"/>
<text x="1641.6" y="28.10" font-size="19.2" fill="#555">15</text>
<line x1="1628.8" y1="110.65" x2="1634.6" y2="110.65" stroke="#555" stroke-width="1.54"/>
<text x="1641.6" y="117.65" font-size="19.2" fill="#555">10</text>
<line x1="1628.8" y1="200.20" x2="1634.6" y2="200.20" stroke="#555" stroke-width="1.54"/>
<text x="1641.6" y="207.20" font-size="19.2" fill="#555">5</text>
<line x1="1628.8" y1="289.75" x2="1634.6" y2="289.75" stroke="#555" stroke-width="1.54"/>
<text x="1641.6" y="296.75" font-size="19.2" fill="#555">0</text>
<line x1="1628.8" y1="379.30" x2="1634.6" y2="379.30" stroke="#555" stroke-width="1.54"/>
<text x="1641.6" y="386.30" font-size="19.2" fill="#555">−5</text>
<line x1="1628.8" y1="468.85" x2="1634.6" y2="468.85" stroke="#555" stroke-width="1.54"/>
<text x="1641.6" y="475.85" font-size="19.2" fill="#555">−10</text>
<line x1="1628.8" y1="558.40" x2="1634.6" y2="558.40" stroke="#555" stroke-width="1.54"/>
<text x="1641.6" y="565.40" font-size="19.2" fill="#555">−15</text>
<g transform="translate(1706.0,302.3) rotate(-90)"><text x="0" y="0" font-size="23" font-style="italic" fill="#555">F</text><text x="13.6" y="4.2" font-size="16.1" fill="#555">3</text></g>
<defs>
<filter id="blur4" x="-20%" y="-20%" width="140%" height="140%"><feGaussianBlur stdDeviation="5"/></filter>
<filter id="blur2" x="-20%" y="-20%" width="140%" height="140%"><feGaussianBlur stdDeviation="2"/></filter>
<filter id="blur1" x="-2%" y="-2%" width="104%" height="104%"><feGaussianBlur stdDeviation="1.5"/></filter>
<radialGradient id="redg" cx="0.4" cy="0.35" r="0.7"><stop offset="0" stop-color="#f0453f"/><stop offset="0.6" stop-color="#d01a1a"/><stop offset="1" stop-color="#a50c10"/></radialGradient>
<radialGradient id="blkg" cx="0.45" cy="0.3" r="0.7"><stop offset="0" stop-color="#4a4d52"/><stop offset="0.5" stop-color="#222428"/><stop offset="1" stop-color="#111214"/></radialGradient>
<clipPath id="cl0"><rect x="80.5" y="648.0" width="251.0" height="222.7"/></clipPath><clipPath id="cl1"><rect x="331.5" y="648.0" width="261.7" height="225.0"/></clipPath><clipPath id="cl2"><rect x="593.2" y="648.1" width="272.7" height="224.9"/></clipPath><clipPath id="cl3"><rect x="865.9" y="648.1" width="259.1" height="224.9"/></clipPath><clipPath id="cl4"><rect x="1125.0" y="648.1" width="268.9" height="224.9"/></clipPath><clipPath id="cl5"><rect x="1393.9" y="648.1" width="291.8" height="224.9"/></clipPath></defs>
<text x="42.4" y="683.0" font-size="39.6" fill="#000">C</text>
<g clip-path="url(#cl0)">
<g filter="url(#blur1)">
<rect x="78" y="645" width="260" height="230" fill="#5c606b"/>
<polygon points="-3.4,631.8 139.7,627.4 149.6,649.0 1.5,653.2" fill="#717783" />
<polygon points="209.3,625.3 275.3,623.3 292.1,644.9 222.9,646.9" fill="#717783" />
<polygon points="149.6,649.0 222.9,646.9 232.4,662.0 156.9,664.9" fill="#717783" />
<polygon points="292.1,644.9 363.4,642.9 375.8,656.4 303.3,659.3" fill="#717783" />
<polygon points="5.5,670.8 156.9,664.9 166.2,685.3 10.2,691.2" fill="#717783" />
<polygon points="232.4,662.0 303.3,659.3 319.1,679.5 245.2,682.3" fill="#717783" />
<polygon points="166.2,685.3 245.2,682.3 266.7,716.4 181.7,719.2" fill="#717783" />
<polygon points="319.1,679.5 394.4,676.7 426.0,711.2 345.8,713.8" fill="#717783" />
<polygon points="17.9,724.6 181.7,719.2 202.9,765.3 28.8,772.4" fill="#717783" />
<polygon points="266.7,716.4 345.8,713.8 380.3,758.1 295.1,761.5" fill="#717783" />
<polygon points="202.9,765.3 295.1,761.5 335.2,825.2 232.2,829.4" fill="#717783" />
<polygon points="380.3,758.1 465.8,754.6 523.4,817.5 429.6,821.4" fill="#717783" />
<polygon points="43.6,837.1 232.2,829.4 286.5,947.8 71.5,958.8" fill="#717783" />
<polygon points="335.2,825.2 429.6,821.4 518.9,936.0 408.5,941.6" fill="#717783" />
<polygon points="81.9,804.4 101.5,786.1 140.7,767.8 203.4,762.6 258.3,757.3 281.8,767.8 281.8,801.7 245.2,804.4 203.4,793.9 177.3,812.2 164.2,846.1 138.1,854.0 101.5,846.1 81.9,833.1" fill="#2c3340" opacity="0.6" filter="url(#blur4)"/>
<polygon points="143.3,770.4 213.8,767.8 224.3,791.3 203.4,807.0 172.0,827.9 151.1,812.2" fill="#2c3340" opacity="0.5" filter="url(#blur4)"/>
</g>
<circle cx="290.9" cy="813.5" r="8.2" fill="url(#redg)"/>
<polygon points="292.4,707.2 306.6,710.8 296.2,751.3 282.0,747.7" fill="#d2d6db" />
<polygon points="306.6,710.8 301.2,709.4 290.8,749.9 296.2,751.3" fill="#b4c2d7" />
<polygon points="280.9,749.7 297.3,749.3 299.1,813.3 282.7,813.7" fill="#d2d6db" />
<polygon points="297.3,749.3 291.0,749.4 292.9,813.4 299.1,813.3" fill="#b4c2d7" />
<ellipse cx="289.1" cy="749.5" rx="9.0" ry="7.7" fill="#dde1e6" transform="rotate(0 289.1 749.5)"/>
<polygon points="213.2,692.4 227.1,693.9 226.5,699.2 212.6,700.5" fill="#b4bcc8" />
<polygon points="130.7,728.6 164.1,714.1 178.0,717.2 213.2,692.4 237.8,682.0 290.1,687.6 268.7,702.5 238.4,729.2 208.2,747.5 186.1,742.8" fill="#c6d6ed" />
<polygon points="130.7,728.6 186.1,742.8 186.8,764.5 143.3,753.8 131.3,748.1" fill="#939cab" />
<polygon points="188.7,742.8 208.2,747.5 208.2,768.3 188.7,764.5" fill="#88919f" />
<polygon points="208.2,747.5 238.4,729.8 239.1,755.7 208.2,768.3" fill="#d5d9dd" />
<polygon points="238.4,729.8 268.7,702.5 268.7,718.5 239.1,733.0" fill="#d6dbe1" />
<polygon points="268.7,702.5 290.1,687.6 305.2,693.3 285.0,705.5" fill="#c6d6ed" />
<polygon points="268.7,702.5 285.0,705.5 283.8,722.3 268.7,718.5" fill="#abb1ba" />
<polygon points="285.0,705.5 305.2,693.3 304.6,717.9 283.8,722.3" fill="#d3d7dc" />
<polygon points="130.7,728.6 143.3,734.9 143.3,753.8 131.3,748.1" fill="#b9c0ca" />
<path d="M253.9,683.6 A7.8,7.8 0 1 1 269.6,683.6 Z" fill="url(#blkg)"/>
<path d="M274.4,685.6 A8.1,8.1 0 1 1 290.6,685.6 Z" fill="url(#blkg)"/>
<circle cx="125.8" cy="822.1" r="7.9" fill="url(#redg)"/>
<polygon points="129.5,737.5 144.0,748.4 120.5,779.8 106.0,768.9" fill="#d2d6db" />
<polygon points="144.0,748.4 138.5,744.3 115.0,775.6 120.5,779.8" fill="#b4c2d7" />
<polygon points="104.8,776.5 121.8,772.1 134.3,819.9 117.3,824.3" fill="#d2d6db" />
<polygon points="121.8,772.1 115.3,773.8 127.8,821.6 134.3,819.9" fill="#b4c2d7" />
<ellipse cx="113.3" cy="774.3" rx="10.0" ry="8.5" fill="#dde1e6" transform="rotate(0 113.3 774.3)"/>
<circle cx="252.5" cy="831.5" r="7.6" fill="url(#redg)"/>
<polygon points="220.3,749.2 238.7,752.4 229.6,806.4 211.1,803.3" fill="#d2d6db" />
<polygon points="238.7,752.4 231.7,751.2 222.6,805.2 229.6,806.4" fill="#b4c2d7" />
<polygon points="215.0,811.4 225.8,798.3 257.9,825.0 247.1,838.1" fill="#d2d6db" />
<polygon points="225.8,798.3 221.7,803.3 253.8,830.0 257.9,825.0" fill="#b4c2d7" />
<ellipse cx="220.4" cy="804.9" rx="10.3" ry="8.8" fill="#dde1e6" transform="rotate(0 220.4 804.9)"/>
</g>
<g clip-path="url(#cl1)">
<g filter="url(#blur1)">
<rect x="330" y="645" width="266" height="230" fill="#5d616c"/>
<polygon points="332.6,648.1 374.4,648.1 369.2,652.8 332.6,654.1" fill="#6d727d" />
<polygon points="460.7,648.1 544.3,648.1 541.7,652.8 455.4,655.5" fill="#6d727d" />
<polygon points="333.9,674.8 373.4,652.6 439.7,655.5 426.7,682.9 333.9,684.2" fill="#6d727d" />
<polygon points="544.3,652.8 593.9,651.5 593.9,671.1 554.7,673.7" fill="#6d727d" />
<polygon points="426.7,682.9 486.8,679.0 476.3,710.3 405.8,712.9" fill="#6d727d" />
<polygon points="332.6,710.3 405.8,712.9 382.3,770.4 332.6,773.0" fill="#6d727d" />
<polygon points="512.9,707.7 593.9,705.1 593.9,731.2 510.3,733.8" fill="#6d727d" />
<polygon points="476.3,710.3 512.9,707.7 502.5,770.4 455.4,770.4" fill="#6d727d" />
<polygon points="382.3,770.4 455.4,770.4 465.9,793.9 332.6,801.8 332.6,775.7" fill="#6d727d" />
<polygon points="502.5,770.4 593.9,767.8 593.9,796.6 492.0,793.9" fill="#6d727d" />
<polygon points="332.1,810.4 477.4,798.1 454.4,873.1 332.1,873.1" fill="#7a808a" />
<polygon points="477.4,798.1 596.0,798.1 596.0,873.1 454.4,873.1" fill="#5c616c" />
<polygon points="332.1,810.4 377.8,798.1 423.8,779.8 477.4,775.4 553.9,798.1 592.1,798.1 592.1,806.0 485.0,806.0 439.2,804.4 400.8,809.1 382.5,873.1 332.1,873.1" fill="#2c3340" opacity="0.75" filter="url(#blur4)"/>
<polygon points="455.4,767.8 512.9,762.6 544.3,780.9 512.9,791.3 476.3,786.1" fill="#2c3340" opacity="0.45" filter="url(#blur4)"/>
</g>
<circle cx="569.1" cy="777.0" r="7.6" fill="url(#redg)"/>
<polygon points="542.8,691.8 558.8,693.8 553.6,734.9 537.6,732.8" fill="#d2d6db" />
<polygon points="558.8,693.8 552.7,693.1 547.5,734.1 553.6,734.9" fill="#b4c2d7" />
<polygon points="538.1,737.9 553.0,729.8 576.5,772.9 561.6,781.0" fill="#d2d6db" />
<polygon points="553.0,729.8 547.4,732.9 570.9,776.0 576.5,772.9" fill="#b4c2d7" />
<ellipse cx="545.6" cy="733.8" rx="9.3" ry="7.9" fill="#dde1e6" transform="rotate(0 545.6 733.8)"/>
<circle cx="451.0" cy="767.8" r="7.1" fill="url(#redg)"/>
<polygon points="442.9,745.6 459.1,745.6 459.1,767.3 442.9,767.3" fill="#d2d6db" />
<polygon points="459.1,745.6 452.9,745.6 452.9,767.3 459.1,767.3" fill="#b4c2d7" />
<polygon points="469.8,677.9 481.6,680.3 478.9,689.4 468.5,692.0" fill="#b4bcc8" />
<polygon points="386.4,714.5 419.1,701.7 431.4,704.6 459.1,693.1 478.9,682.4 469.8,677.9 491.2,668.0 544.8,674.8 545.6,677.9 561.5,681.8 524.9,690.2 494.4,713.2 469.8,729.9 445.2,727.6" fill="#c6d6ed" />
<polygon points="386.4,714.5 445.2,727.6 445.2,750.6 393.2,738.3 387.0,733.8" fill="#b0b7c1" />
<polygon points="445.2,727.6 469.8,729.9 470.6,750.6 445.2,750.6" fill="#a3aab3" />
<polygon points="469.8,729.9 494.4,713.2 497.2,730.7 470.6,750.6" fill="#d5d9dd" />
<polygon points="494.4,713.2 524.9,690.2 524.9,706.1 497.2,723.4" fill="#d6dbe1" />
<polygon points="524.9,690.2 544.8,674.8 561.5,681.8 540.9,691.8" fill="#c6d6ed" />
<polygon points="524.9,690.2 540.9,691.8 540.9,708.5 524.9,706.1" fill="#abb1ba" />
<polygon points="540.9,691.8 561.5,681.8 561.5,706.1 540.9,708.5" fill="#d3d7dc" />
<path d="M508.2,671.5 A7.8,7.8 0 1 1 523.9,671.5 Z" fill="url(#blkg)"/>
<path d="M528.9,673.6 A8.4,8.4 0 1 1 545.6,673.6 Z" fill="url(#blkg)"/>
<circle cx="387.5" cy="792.9" r="8.5" fill="url(#redg)"/>
<polygon points="381.2,720.9 394.8,733.7 366.1,764.3 352.4,751.5" fill="#d2d6db" />
<polygon points="394.8,733.7 389.6,728.8 360.9,759.4 366.1,764.3" fill="#b4c2d7" />
<polygon points="351.5,764.1 367.0,751.6 395.2,786.7 379.7,799.1" fill="#d2d6db" />
<polygon points="367.0,751.6 361.1,756.4 389.3,791.4 395.2,786.7" fill="#b4c2d7" />
<ellipse cx="359.3" cy="757.9" rx="10.9" ry="9.3" fill="#dde1e6" transform="rotate(0 359.3 757.9)"/>
<circle cx="522.8" cy="856.7" r="9.0" fill="url(#redg)"/>
<polygon points="477.0,731.6 499.2,730.9 501.0,787.0 478.8,787.8" fill="#d2d6db" />
<polygon points="499.2,730.9 490.8,731.1 492.6,787.3 501.0,787.0" fill="#b4c2d7" />
<polygon points="479.9,792.2 500.0,782.6 532.9,851.9 512.8,861.4" fill="#d2d6db" />
<polygon points="500.0,782.6 492.3,786.3 525.3,855.5 532.9,851.9" fill="#b4c2d7" />
<ellipse cx="489.9" cy="787.4" rx="12.2" ry="10.4" fill="#dde1e6" transform="rotate(0 489.9 787.4)"/>
</g>
<g clip-path="url(#cl2)">
<g filter="url(#blur1)">
<rect x="591" y="645" width="278" height="230" fill="#606470"/>
<polygon points="593.1,648.1 648.5,648.1 679.1,656.8 612.4,676.9 593.1,673.5" fill="#767c86" />
<polygon points="737.3,648.1 826.2,648.1 768.7,660.7 706.0,660.7" fill="#767c86" />
<polygon points="768.7,660.7 865.4,652.8 865.4,676.4 826.2,686.8" fill="#767c86" />
<polygon points="593.1,697.3 612.4,676.9 695.5,697.3 643.3,731.2 593.1,731.2" fill="#767c86" />
<polygon points="737.3,684.2 826.2,686.8 865.4,697.3 865.4,723.4 773.9,723.4" fill="#767c86" />
<polygon points="593.1,760.0 703.6,764.7 593.1,823.2" fill="#767c86" />
<polygon points="703.6,764.7 773.9,723.4 865.4,739.1 865.4,780.9 830.4,812.2" fill="#767c86" />
<polygon points="790.6,820.1 865.9,780.9 865.9,873.1 800.0,873.1" fill="#767c86" />
<polygon points="751.2,760.0 865.9,760.0 865.9,791.3 826.2,786.1 800.0,775.7 773.9,767.8" fill="#2c3340" opacity="0.6" filter="url(#blur4)"/>
<polygon points="648.5,812.2 695.5,822.7 734.7,827.9 773.9,817.5 800.0,807.0 789.6,827.9 747.8,838.4 695.5,835.7 656.3,822.7" fill="#2c3340" opacity="0.6" filter="url(#blur4)"/>
<polygon points="721.7,754.7 773.9,749.5 794.8,762.6 760.8,767.8" fill="#2c3340" opacity="0.4" filter="url(#blur4)"/>
</g>
<circle cx="824.3" cy="774.9" r="8.2" fill="url(#redg)"/>
<polygon points="808.7,694.2 821.7,697.7 809.7,742.9 796.7,739.4" fill="#d2d6db" />
<polygon points="821.7,697.7 816.8,696.4 804.7,741.6 809.7,742.9" fill="#b4c2d7" />
<polygon points="795.7,745.8 810.6,736.5 831.8,770.2 816.9,779.5" fill="#d2d6db" />
<polygon points="810.6,736.5 805.0,740.0 826.1,773.7 831.8,770.2" fill="#b4c2d7" />
<ellipse cx="803.2" cy="741.2" rx="9.7" ry="8.2" fill="#dde1e6" transform="rotate(0 803.2 741.2)"/>
<polygon points="733.4,678.4 753.5,673.2 752.5,684.2 732.1,686.8" fill="#b4bcc8" />
<polygon points="644.6,708.2 681.7,696.5 692.6,699.6 732.1,684.5 759.0,671.9 773.9,671.1 809.7,681.3 822.5,685.2 784.4,691.0 751.2,714.5 719.6,727.3 702.1,724.2" fill="#c6d6ed" />
<polygon points="644.6,708.2 702.1,724.2 702.1,746.9 698.1,746.4 645.4,739.9" fill="#b2b8c1" />
<polygon points="702.1,724.2 719.6,727.3 719.6,751.1 702.1,747.4" fill="#a5abb3" />
<polygon points="719.6,727.3 751.2,714.5 752.7,739.9 719.6,751.1" fill="#d5d9dd" />
<polygon points="751.2,714.5 784.4,691.0 785.1,708.2 752.7,723.4" fill="#d6dbe1" />
<polygon points="784.4,691.0 809.7,681.3 822.5,685.2 801.9,693.3" fill="#c6d6ed" />
<polygon points="785.1,691.0 801.9,693.3 801.9,711.4 785.1,708.2" fill="#abb1ba" />
<polygon points="801.9,693.3 822.5,685.2 823.3,708.2 801.9,711.4" fill="#d3d7dc" />
<path d="M773.4,674.4 A8.4,8.4 0 1 1 790.1,674.4 Z" fill="url(#blkg)"/>
<path d="M794.3,677.5 A8.4,8.4 0 1 1 811.0,677.5 Z" fill="url(#blkg)"/>
<circle cx="646.7" cy="805.7" r="9.0" fill="url(#redg)"/>
<polygon points="642.0,722.4 657.6,733.7 638.0,760.9 622.4,749.6" fill="#d2d6db" />
<polygon points="657.6,733.7 651.7,729.4 632.1,756.6 638.0,760.9" fill="#b4c2d7" />
<polygon points="620.5,758.4 639.9,752.1 656.4,802.5 636.9,808.9" fill="#d2d6db" />
<polygon points="639.9,752.1 632.5,754.5 649.0,804.9 656.4,802.5" fill="#b4c2d7" />
<ellipse cx="630.2" cy="755.3" rx="11.3" ry="9.6" fill="#dde1e6" transform="rotate(0 630.2 755.3)"/>
<circle cx="755.1" cy="855.3" r="9.6" fill="url(#redg)"/>
<polygon points="729.4,733.4 745.2,734.3 742.1,790.5 726.3,789.6" fill="#d2d6db" />
<polygon points="745.2,734.3 739.2,733.9 736.1,790.1 742.1,790.5" fill="#b4c2d7" />
<polygon points="724.2,793.2 744.2,786.8 765.1,852.1 745.1,858.6" fill="#d2d6db" />
<polygon points="744.2,786.8 736.6,789.3 757.5,854.6 765.1,852.1" fill="#b4c2d7" />
<ellipse cx="734.2" cy="790.0" rx="11.6" ry="9.9" fill="#dde1e6" transform="rotate(0 734.2 790.0)"/>
</g>
<g clip-path="url(#cl3)">
<g filter="url(#blur1)">
<rect x="863" y="645" width="265" height="230" fill="#646870"/>
<polygon points="894.1,648.1 988.1,648.1 993.0,677.1 882.1,679.2" fill="#80858f" />
<polygon points="1079.7,648.1 1126.7,648.1 1126.7,671.1 1090.2,673.7" fill="#80858f" />
<polygon points="865.9,679.2 882.1,679.2 868.2,710.3 865.9,712.9" fill="#80858f" />
<polygon points="993.0,677.1 1090.2,673.7 1126.7,671.1 1126.7,715.5 998.8,723.3" fill="#80858f" />
<polygon points="868.2,723.3 998.8,723.3 1009.2,759.9 865.9,759.9" fill="#80858f" />
<polygon points="1024.9,723.3 1126.7,715.5 1126.7,786.0 1026.7,791.7" fill="#80858f" />
<polygon points="865.9,759.9 990.7,759.9 990.7,795.9 865.9,795.9" fill="#868b94" />
<polygon points="865.9,795.9 1026.7,791.7 1031.1,872.9 865.9,872.9" fill="#6d727b" />
<polygon points="1026.7,791.7 1125.4,786.0 1125.4,872.9 1031.1,872.9" fill="#5d626c" />
<polygon points="915.2,799.0 941.3,812.1 972.7,822.5 998.8,838.2 1019.7,853.9 1030.1,872.9 1045.8,872.9 1051.0,843.4 1071.9,827.8 1098.0,812.1 1125.4,801.7 1125.4,786.0 1098.0,791.2 1071.9,786.0 1045.8,780.8 1024.9,786.0 1009.2,791.2 988.3,801.7 954.4,796.4" fill="#2c3340" opacity="0.7" filter="url(#blur4)"/>
<polygon points="1024.9,759.9 1125.4,759.9 1125.4,780.8 1071.9,783.4 1045.8,775.5" fill="#2c3340" opacity="0.6" filter="url(#blur4)"/>
</g>
<circle cx="1086.8" cy="772.2" r="8.2" fill="url(#redg)"/>
<polygon points="1078.0,705.9 1089.7,705.3 1091.3,734.8 1079.6,735.4" fill="#d2d6db" />
<polygon points="1089.7,705.3 1085.3,705.5 1086.9,735.0 1091.3,734.8" fill="#b4c2d7" />
<polygon points="1076.1,735.4 1094.8,734.7 1096.1,771.8 1077.4,772.5" fill="#d2d6db" />
<polygon points="1094.8,734.7 1087.7,735.0 1089.0,772.1 1096.1,771.8" fill="#b4c2d7" />
<ellipse cx="1085.5" cy="735.1" rx="10.3" ry="8.7" fill="#dde1e6" transform="rotate(0 1085.5 735.1)"/>
<polygon points="986.0,697.5 1007.1,687.0 1013.1,693.0 988.3,706.4" fill="#b4bcc8" />
<polygon points="921.5,725.9 954.6,709.5 968.0,713.9 986.0,705.1 986.0,697.5 1007.1,687.0 1028.0,678.7 1046.0,679.5 1091.2,690.7 1076.1,701.9 1056.7,701.9 1025.1,737.4 996.7,756.0 977.1,751.5 935.1,732.2" fill="#c6d6ed" />
<polygon points="921.5,725.9 935.1,732.2 977.1,751.5 977.1,772.9 935.1,759.9 921.5,753.1" fill="#87909e" />
<polygon points="996.7,756.0 1025.1,737.4 1026.2,757.3 996.7,772.9" fill="#d5d9dd" />
<polygon points="1025.1,737.4 1056.7,701.9 1056.7,717.1 1026.2,749.4" fill="#d6dbe1" />
<polygon points="1056.7,701.9 1076.1,701.9 1076.1,718.6 1056.7,717.1" fill="#abb1ba" />
<polygon points="1076.1,701.9 1091.2,690.7 1092.8,717.1 1076.1,718.6" fill="#d3d7dc" />
<polygon points="977.1,751.5 1008.7,734.3 1025.1,737.4 996.7,756.0" fill="#e4ebf6" />
<polygon points="977.1,751.5 996.7,756.0 996.7,772.9 977.1,772.9" fill="#98a0ac" />
<path d="M1045.5,679.5 A8.1,8.1 0 1 1 1061.7,679.5 Z" fill="url(#blkg)"/>
<path d="M1065.3,686.1 A7.8,7.8 0 1 1 1081.0,686.1 Z" fill="url(#blkg)"/>
<circle cx="918.6" cy="788.1" r="8.2" fill="url(#redg)"/>
<polygon points="909.1,737.6 921.3,745.7 918.7,749.6 906.5,741.5" fill="#d2d6db" />
<polygon points="921.3,745.7 916.7,742.6 914.1,746.5 918.7,749.6" fill="#b4c2d7" />
<polygon points="902.2,747.0 923.0,744.1 929.0,786.6 908.2,789.6" fill="#d2d6db" />
<polygon points="923.0,744.1 915.1,745.2 921.1,787.7 929.0,786.6" fill="#b4c2d7" />
<ellipse cx="912.6" cy="745.5" rx="7.8" ry="6.7" fill="#dde1e6" transform="rotate(0 912.6 745.5)"/>
<circle cx="1017.6" cy="819.9" r="8.5" fill="url(#redg)"/>
<polygon points="998.1,753.5 1016.2,758.4 1009.4,783.2 991.3,778.3" fill="#d2d6db" />
<polygon points="1016.2,758.4 1009.3,756.6 1002.5,781.4 1009.4,783.2" fill="#b4c2d7" />
<polygon points="990.4,785.1 1010.2,776.4 1027.5,815.6 1007.7,824.3" fill="#d2d6db" />
<polygon points="1010.2,776.4 1002.7,779.7 1019.9,818.9 1027.5,815.6" fill="#b4c2d7" />
<ellipse cx="1000.3" cy="780.8" rx="11.9" ry="10.1" fill="#dde1e6" transform="rotate(0 1000.3 780.8)"/>
</g>
<g clip-path="url(#cl4)">
<g filter="url(#blur1)">
<rect x="1122" y="645" width="275" height="230" fill="#5a5e68"/>
<polygon points="1125.9,647.9 1211.3,647.9 1182.1,666.7 1125.9,660.9" fill="#767a84" />
<polygon points="1304.8,648.1 1393.6,648.1 1393.6,686.8 1289.1,681.6" fill="#767a84" />
<polygon points="1125.9,698.3 1182.1,666.7 1265.9,675.6 1259.1,700.6 1235.6,712.9 1125.9,704.0" fill="#6e737e" />
<polygon points="1380.6,684.2 1393.6,684.2 1393.6,736.4 1380.6,736.4" fill="#6e737e" />
<polygon points="1163.8,763.0 1278.7,731.2 1372.7,731.2 1343.2,811.4 1268.3,806.9 1165.6,788.1" fill="#6c717c" />
<polygon points="1343.2,811.4 1393.9,814.5 1393.9,873.0 1324.7,873.0" fill="#7f848e" />
<polygon points="1124.9,791.3 1165.6,788.1 1124.9,822.3" fill="#6c717c" />
<polygon points="1184.2,763.0 1257.8,767.7 1279.2,729.1 1327.5,729.1 1344.0,759.9 1304.8,767.7 1283.9,791.3 1257.8,799.1 1221.2,791.3 1184.2,775.6" fill="#2c3340" opacity="0.65" filter="url(#blur4)"/>
</g>
<circle cx="1348.7" cy="764.6" r="7.6" fill="url(#redg)"/>
<polygon points="1336.8,707.9 1348.5,711.7 1340.7,735.7 1329.0,731.9" fill="#d2d6db" />
<polygon points="1348.5,711.7 1344.1,710.2 1336.3,734.3 1340.7,735.7" fill="#b4c2d7" />
<polygon points="1326.8,737.4 1342.9,730.2 1356.7,761.0 1340.7,768.2" fill="#d2d6db" />
<polygon points="1342.9,730.2 1336.8,732.9 1350.6,763.8 1356.7,761.0" fill="#b4c2d7" />
<ellipse cx="1334.8" cy="733.8" rx="9.7" ry="8.2" fill="#dde1e6" transform="rotate(0 1334.8 733.8)"/>
<polygon points="1260.7,688.6 1274.8,684.2 1274.8,695.9 1262.2,701.2" fill="#b4bcc8" />
<polygon points="1173.4,732.2 1209.2,716.8 1218.6,720.7 1262.2,701.2 1260.7,688.6 1287.1,677.6 1302.7,680.8 1338.5,687.0 1353.4,694.9 1315.3,704.3 1278.7,729.1 1243.4,752.6 1226.5,746.3" fill="#c6d6ed" />
<polygon points="1173.4,732.2 1226.5,746.3 1224.9,759.9 1173.4,754.7" fill="#b9bec7" />
<polygon points="1226.5,746.3 1243.4,752.6 1243.4,759.9 1224.9,759.9" fill="#acb0b9" />
<polygon points="1243.4,752.6 1278.7,729.1 1279.5,759.9 1243.4,759.9" fill="#d5d9dd" />
<polygon points="1278.7,729.1 1315.3,704.3 1315.3,723.1 1279.5,744.2" fill="#d6dbe1" />
<polygon points="1315.3,704.3 1338.5,687.0 1353.4,694.9 1329.4,707.4" fill="#c6d6ed" />
<polygon points="1315.3,704.3 1329.4,707.4 1329.4,726.0 1315.3,723.1" fill="#abb1ba" />
<polygon points="1329.4,707.4 1353.4,694.9 1352.6,723.1 1329.4,726.0" fill="#d3d7dc" />
<path d="M1304.0,681.2 A7.8,7.8 0 1 1 1319.7,681.2 Z" fill="url(#blkg)"/>
<path d="M1324.4,684.6 A7.8,7.8 0 1 1 1340.1,684.6 Z" fill="url(#blkg)"/>
<circle cx="1176.3" cy="786.6" r="7.6" fill="url(#redg)"/>
<polygon points="1169.1,732.9 1179.3,742.5 1166.3,756.4 1156.1,746.7" fill="#d2d6db" />
<polygon points="1179.3,742.5 1175.5,738.9 1162.4,752.7 1166.3,756.4" fill="#b4c2d7" />
<polygon points="1152.3,755.4 1170.0,747.7 1185.2,782.7 1167.5,790.4" fill="#d2d6db" />
<polygon points="1170.0,747.7 1163.3,750.6 1178.4,785.6 1185.2,782.7" fill="#b4c2d7" />
<ellipse cx="1161.2" cy="751.6" rx="10.6" ry="9.0" fill="#dde1e6" transform="rotate(0 1161.2 751.6)"/>
<circle cx="1284.7" cy="836.4" r="8.5" fill="url(#redg)"/>
<polygon points="1256.9,752.0 1279.7,751.1 1281.0,787.7 1258.2,788.5" fill="#d2d6db" />
<polygon points="1279.7,751.1 1271.0,751.5 1272.3,788.0 1281.0,787.7" fill="#b4c2d7" />
<polygon points="1259.0,791.4 1280.2,784.8 1295.3,833.1 1274.1,839.8" fill="#d2d6db" />
<polygon points="1280.2,784.8 1272.1,787.3 1287.3,835.6 1295.3,833.1" fill="#b4c2d7" />
<ellipse cx="1269.6" cy="788.1" rx="12.5" ry="10.7" fill="#dde1e6" transform="rotate(0 1269.6 788.1)"/>
</g>
<g clip-path="url(#cl5)">
<g filter="url(#blur1)">
<rect x="1391" y="645" width="300" height="230" fill="#707682"/>
<polygon points="1443.2,648.1 1547.7,648.1 1542.4,659.4 1443.2,655.4" fill="#8c929c" />
<polygon points="1393.9,655.4 1443.2,655.4 1406.7,690.7 1393.9,691.5" fill="#8c929c" />
<polygon points="1542.4,659.4 1646.9,660.7 1652.1,699.8 1529.4,694.6" fill="#8c929c" />
<polygon points="1646.9,648.1 1686.0,648.1 1686.0,660.7 1648.2,660.7" fill="#8c929c" />
<polygon points="1393.9,692.0 1526.8,694.6 1511.1,745.5 1393.9,748.1" fill="#8c929c" />
<polygon points="1653.4,699.8 1686.0,698.5 1686.0,759.9 1659.9,759.9" fill="#8c929c" />
<polygon points="1511.1,745.5 1657.3,759.9 1664.6,759.9 1678.2,864.8 1455.0,854.7 1488.7,773.5" fill="#8c929c" />
<polygon points="1393.9,849.7 1455.0,854.7 1455.0,872.9 1393.9,872.9" fill="#8c929c" />
<polygon points="1393.9,759.9 1488.7,773.5 1455.0,854.7 1393.9,851.3" fill="#7e848e" />
<polygon points="1455.0,858.1 1678.2,864.8 1688.7,872.9 1455.0,872.9" fill="#6d727b" />
<polygon points="1432.8,793.8 1470.1,819.2 1512.4,824.1 1563.1,810.8 1554.7,776.9 1614.0,768.5 1661.2,790.4 1630.7,810.8 1580.0,836.1 1571.7,861.4 1529.4,864.8 1478.5,844.5 1444.8,815.8" fill="#2c3340" opacity="0.7" filter="url(#blur4)"/>
<polygon points="1521.5,754.7 1573.8,754.7 1620.8,759.9 1573.8,775.5 1537.2,780.8" fill="#2c3340" opacity="0.5" filter="url(#blur4)"/>
</g>
<circle cx="1635.9" cy="772.4" r="7.6" fill="url(#redg)"/>
<polygon points="1617.1,715.1 1628.6,717.0 1623.9,745.7 1612.4,743.8" fill="#d2d6db" />
<polygon points="1628.6,717.0 1624.2,716.2 1619.5,745.0 1623.9,745.7" fill="#b4c2d7" />
<polygon points="1610.8,749.5 1625.5,740.0 1643.3,767.7 1628.5,777.2" fill="#d2d6db" />
<polygon points="1625.5,740.0 1619.9,743.6 1637.7,771.3 1643.3,767.7" fill="#b4c2d7" />
<ellipse cx="1618.2" cy="744.7" rx="9.7" ry="8.2" fill="#dde1e6" transform="rotate(0 1618.2 744.7)"/>
<ellipse cx="1532.0" cy="706.4" rx="5.7" ry="4.7" fill="#dde1e6" transform="rotate(0 1532.0 706.4)"/>
<polygon points="1545.0,692.0 1571.2,684.2 1573.8,698.5 1543.7,707.7" fill="#b4bcc8" />
<polygon points="1453.7,732.5 1487.6,718.1 1498.0,723.3 1545.0,701.1 1545.0,692.0 1571.2,684.2 1585.5,689.9 1633.8,703.7 1597.3,710.3 1558.1,745.5 1507.2,756.0 1500.7,754.7 1462.8,737.7" fill="#c6d6ed" />
<polygon points="1453.7,732.5 1462.8,737.7 1507.2,756.0 1506.4,776.1 1455.0,759.9" fill="#b0b7c1" />
<polygon points="1507.2,756.0 1558.1,745.5 1558.1,767.7 1521.5,783.4 1506.4,776.1" fill="#d5d9dd" />
<polygon points="1558.1,745.5 1597.3,710.3 1598.6,731.2 1558.1,759.9" fill="#d6dbe1" />
<polygon points="1597.3,710.3 1633.8,703.7 1635.1,723.3 1598.6,731.2" fill="#d3d7dc" />
<polygon points="1507.2,756.0 1547.7,741.6 1555.5,746.3 1516.3,759.9" fill="#e6eef8" />
<polygon points="1597.3,710.8 1626.0,705.6 1627.3,711.6 1598.6,715.5" fill="#eef3fa" />
<path d="M1585.3,691.2 A8.6,8.6 0 1 1 1602.5,691.2 Z" fill="url(#blkg)"/>
<path d="M1605.6,697.4 A8.6,8.6 0 1 1 1622.9,697.4 Z" fill="url(#blkg)"/>
<circle cx="1438.5" cy="784.9" r="8.7" fill="url(#redg)"/>
<polygon points="1435.5,747.2 1446.7,743.8 1447.5,746.5 1436.3,749.8" fill="#d2d6db" />
<polygon points="1446.7,743.8 1442.5,745.1 1443.3,747.7 1447.5,746.5" fill="#b4c2d7" />
<polygon points="1431.1,747.1 1452.7,749.1 1449.3,785.9 1427.7,784.0" fill="#d2d6db" />
<polygon points="1452.7,749.1 1444.5,748.4 1441.1,785.2 1449.3,785.9" fill="#b4c2d7" />
<ellipse cx="1441.9" cy="748.1" rx="7.8" ry="6.7" fill="#dde1e6" transform="rotate(0 1441.9 748.1)"/>
<circle cx="1565.4" cy="828.6" r="8.5" fill="url(#redg)"/>
<polygon points="1532.2,763.6 1544.9,765.5 1539.7,800.0 1526.9,798.1" fill="#d2d6db" />
<polygon points="1544.9,765.5 1540.0,764.8 1534.8,799.3 1539.7,800.0" fill="#b4c2d7" />
<polygon points="1526.0,807.0 1540.6,791.1 1572.7,820.6 1558.1,836.5" fill="#d2d6db" />
<polygon points="1540.6,791.1 1535.1,797.1 1567.2,826.6 1572.7,820.6" fill="#b4c2d7" />
<ellipse cx="1533.3" cy="799.0" rx="11.9" ry="10.1" fill="#dde1e6" transform="rotate(0 1533.3 799.0)"/>
</g>
</svg></body></html>
